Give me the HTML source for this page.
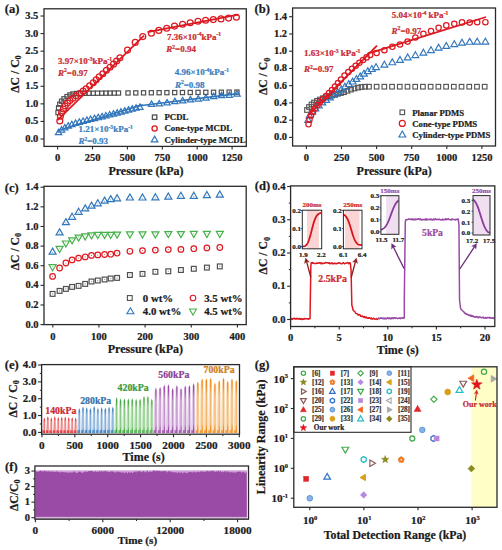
<!DOCTYPE html>
<html><head><meta charset="utf-8"><style>
html,body{margin:0;padding:0;background:#fff;overflow:hidden;width:502px;height:550px;}
svg{display:block;}
text{font-family:"Liberation Serif",serif;}
</style></head><body>
<svg width="502" height="550" viewBox="0 0 502 550">
<rect x="0" y="0" width="502" height="550" fill="#fff"/>
<rect x="55.9" y="110.5" width="4.2" height="4.2" stroke="#505050" stroke-width="1.2" fill="none" />
<rect x="56.5" y="105.7" width="4.2" height="4.2" stroke="#505050" stroke-width="1.2" fill="none" />
<rect x="57.7" y="102.1" width="4.2" height="4.2" stroke="#505050" stroke-width="1.2" fill="none" />
<rect x="59.5" y="99.1" width="4.2" height="4.2" stroke="#505050" stroke-width="1.2" fill="none" />
<rect x="61.9" y="96.7" width="4.2" height="4.2" stroke="#505050" stroke-width="1.2" fill="none" />
<rect x="64.9" y="94.5" width="4.2" height="4.2" stroke="#505050" stroke-width="1.2" fill="none" />
<rect x="67.8" y="92.9" width="4.2" height="4.2" stroke="#505050" stroke-width="1.2" fill="none" />
<rect x="70.8" y="91.9" width="4.2" height="4.2" stroke="#505050" stroke-width="1.2" fill="none" />
<rect x="74.4" y="91.4" width="4.2" height="4.2" stroke="#505050" stroke-width="1.2" fill="none" />
<rect x="78.6" y="91.2" width="4.2" height="4.2" stroke="#505050" stroke-width="1.2" fill="none" />
<rect x="82.8" y="91.19" width="4.2" height="4.2" stroke="#505050" stroke-width="1.2" fill="none" />
<rect x="87" y="91.16" width="4.2" height="4.2" stroke="#505050" stroke-width="1.2" fill="none" />
<rect x="91.2" y="91.13" width="4.2" height="4.2" stroke="#505050" stroke-width="1.2" fill="none" />
<rect x="95.4" y="91.09" width="4.2" height="4.2" stroke="#505050" stroke-width="1.2" fill="none" />
<rect x="99.6" y="91.06" width="4.2" height="4.2" stroke="#505050" stroke-width="1.2" fill="none" />
<rect x="103.8" y="91.03" width="4.2" height="4.2" stroke="#505050" stroke-width="1.2" fill="none" />
<rect x="108" y="91" width="4.2" height="4.2" stroke="#505050" stroke-width="1.2" fill="none" />
<rect x="112.2" y="90.96" width="4.2" height="4.2" stroke="#505050" stroke-width="1.2" fill="none" />
<rect x="116.4" y="90.93" width="4.2" height="4.2" stroke="#505050" stroke-width="1.2" fill="none" />
<rect x="125.9" y="90.85" width="4.2" height="4.2" stroke="#505050" stroke-width="1.2" fill="none" />
<rect x="133.68" y="90.79" width="4.2" height="4.2" stroke="#505050" stroke-width="1.2" fill="none" />
<rect x="141.46" y="90.73" width="4.2" height="4.2" stroke="#505050" stroke-width="1.2" fill="none" />
<rect x="149.24" y="90.67" width="4.2" height="4.2" stroke="#505050" stroke-width="1.2" fill="none" />
<rect x="157.02" y="90.61" width="4.2" height="4.2" stroke="#505050" stroke-width="1.2" fill="none" />
<rect x="164.8" y="90.55" width="4.2" height="4.2" stroke="#505050" stroke-width="1.2" fill="none" />
<rect x="172.58" y="90.49" width="4.2" height="4.2" stroke="#505050" stroke-width="1.2" fill="none" />
<rect x="180.36" y="90.43" width="4.2" height="4.2" stroke="#505050" stroke-width="1.2" fill="none" />
<rect x="188.14" y="90.37" width="4.2" height="4.2" stroke="#505050" stroke-width="1.2" fill="none" />
<rect x="195.92" y="90.31" width="4.2" height="4.2" stroke="#505050" stroke-width="1.2" fill="none" />
<rect x="203.7" y="90.24" width="4.2" height="4.2" stroke="#505050" stroke-width="1.2" fill="none" />
<rect x="211.48" y="90.18" width="4.2" height="4.2" stroke="#505050" stroke-width="1.2" fill="none" />
<rect x="219.26" y="90.12" width="4.2" height="4.2" stroke="#505050" stroke-width="1.2" fill="none" />
<rect x="227.04" y="90.06" width="4.2" height="4.2" stroke="#505050" stroke-width="1.2" fill="none" />
<rect x="234.82" y="90" width="4.2" height="4.2" stroke="#505050" stroke-width="1.2" fill="none" />
<polygon points="58.6,129.13 61.75,134.58 55.45,134.58" stroke="#3276bb" stroke-width="1.2" fill="none" />
<polygon points="61.54,126.58 64.69,132.03 58.39,132.03" stroke="#3276bb" stroke-width="1.2" fill="none" />
<polygon points="64.81,124.45 67.96,129.91 61.66,129.91" stroke="#3276bb" stroke-width="1.2" fill="none" />
<polygon points="68.27,122.65 71.42,128.11 65.12,128.11" stroke="#3276bb" stroke-width="1.2" fill="none" />
<polygon points="71.88,121.21 75.03,126.67 68.73,126.67" stroke="#3276bb" stroke-width="1.2" fill="none" />
<polygon points="75.59,120 78.74,125.46 72.44,125.46" stroke="#3276bb" stroke-width="1.2" fill="none" />
<polygon points="79.32,118.85 82.47,124.3 76.17,124.3" stroke="#3276bb" stroke-width="1.2" fill="none" />
<polygon points="83.08,117.83 86.23,123.29 79.93,123.29" stroke="#3276bb" stroke-width="1.2" fill="none" />
<polygon points="86.87,116.92 90.02,122.38 83.72,122.38" stroke="#3276bb" stroke-width="1.2" fill="none" />
<polygon points="90.67,116.03 93.82,121.49 87.52,121.49" stroke="#3276bb" stroke-width="1.2" fill="none" />
<polygon points="94.47,115.17 97.62,120.63 91.32,120.63" stroke="#3276bb" stroke-width="1.2" fill="none" />
<polygon points="98.28,114.31 101.43,119.77 95.13,119.77" stroke="#3276bb" stroke-width="1.2" fill="none" />
<polygon points="102.07,113.41 105.22,118.87 98.92,118.87" stroke="#3276bb" stroke-width="1.2" fill="none" />
<polygon points="105.87,112.51 109.02,117.97 102.72,117.97" stroke="#3276bb" stroke-width="1.2" fill="none" />
<polygon points="109.65,111.55 112.8,117.01 106.5,117.01" stroke="#3276bb" stroke-width="1.2" fill="none" />
<polygon points="113.43,110.6 116.58,116.05 110.28,116.05" stroke="#3276bb" stroke-width="1.2" fill="none" />
<polygon points="117.2,109.61 120.35,115.06 114.05,115.06" stroke="#3276bb" stroke-width="1.2" fill="none" />
<polygon points="120.97,108.62 124.12,114.07 117.82,114.07" stroke="#3276bb" stroke-width="1.2" fill="none" />
<polygon points="124.74,107.62 127.89,113.07 121.59,113.07" stroke="#3276bb" stroke-width="1.2" fill="none" />
<polygon points="128.51,106.61 131.66,112.07 125.36,112.07" stroke="#3276bb" stroke-width="1.2" fill="none" />
<polygon points="132.28,105.61 135.43,111.06 129.13,111.06" stroke="#3276bb" stroke-width="1.2" fill="none" />
<polygon points="136.07,104.7 139.22,110.16 132.92,110.16" stroke="#3276bb" stroke-width="1.2" fill="none" />
<polygon points="139.88,103.85 143.03,109.31 136.73,109.31" stroke="#3276bb" stroke-width="1.2" fill="none" />
<polygon points="151.5,100.89 154.65,106.35 148.35,106.35" stroke="#3276bb" stroke-width="1.2" fill="none" />
<polygon points="159.28,100.51 162.43,105.97 156.13,105.97" stroke="#3276bb" stroke-width="1.2" fill="none" />
<polygon points="167.06,99.5 170.21,104.95 163.91,104.95" stroke="#3276bb" stroke-width="1.2" fill="none" />
<polygon points="174.84,98.14 177.99,103.6 171.69,103.6" stroke="#3276bb" stroke-width="1.2" fill="none" />
<polygon points="182.62,97.38 185.77,102.84 179.47,102.84" stroke="#3276bb" stroke-width="1.2" fill="none" />
<polygon points="190.4,96.4 193.55,101.85 187.25,101.85" stroke="#3276bb" stroke-width="1.2" fill="none" />
<polygon points="198.18,95.61 201.33,101.06 195.03,101.06" stroke="#3276bb" stroke-width="1.2" fill="none" />
<polygon points="205.96,94.77 209.11,100.22 202.81,100.22" stroke="#3276bb" stroke-width="1.2" fill="none" />
<polygon points="213.74,93.26 216.89,98.72 210.59,98.72" stroke="#3276bb" stroke-width="1.2" fill="none" />
<polygon points="221.52,92.26 224.67,97.72 218.37,97.72" stroke="#3276bb" stroke-width="1.2" fill="none" />
<polygon points="229.3,91.96 232.45,97.41 226.15,97.41" stroke="#3276bb" stroke-width="1.2" fill="none" />
<polygon points="237.08,90.68 240.23,96.14 233.93,96.14" stroke="#3276bb" stroke-width="1.2" fill="none" />
<line x1="57.6" y1="130.74" x2="142.76" y2="104.81" stroke="#3276bb" stroke-width="1.6" />
<line x1="135.78" y1="106.32" x2="237.68" y2="93.6" stroke="#3276bb" stroke-width="1.6" />
<circle cx="59.8" cy="120.9" r="2.95" stroke="#dc1820" stroke-width="1.25" fill="none"/>
<circle cx="60.4" cy="116.2" r="2.95" stroke="#dc1820" stroke-width="1.25" fill="none"/>
<circle cx="61.6" cy="112.6" r="2.95" stroke="#dc1820" stroke-width="1.25" fill="none"/>
<circle cx="63.4" cy="109" r="2.95" stroke="#dc1820" stroke-width="1.25" fill="none"/>
<circle cx="65.2" cy="106" r="2.95" stroke="#dc1820" stroke-width="1.25" fill="none"/>
<circle cx="67.5" cy="103" r="2.95" stroke="#dc1820" stroke-width="1.25" fill="none"/>
<circle cx="69.9" cy="100.6" r="2.95" stroke="#dc1820" stroke-width="1.25" fill="none"/>
<circle cx="72.9" cy="98.2" r="2.95" stroke="#dc1820" stroke-width="1.25" fill="none"/>
<circle cx="75.9" cy="95.8" r="2.95" stroke="#dc1820" stroke-width="1.25" fill="none"/>
<circle cx="79.5" cy="93.5" r="2.95" stroke="#dc1820" stroke-width="1.25" fill="none"/>
<circle cx="83.1" cy="91.1" r="2.95" stroke="#dc1820" stroke-width="1.25" fill="none"/>
<circle cx="86.1" cy="88.7" r="2.95" stroke="#dc1820" stroke-width="1.25" fill="none"/>
<circle cx="89.6" cy="85.7" r="2.95" stroke="#dc1820" stroke-width="1.25" fill="none"/>
<circle cx="93.2" cy="82.7" r="2.95" stroke="#dc1820" stroke-width="1.25" fill="none"/>
<circle cx="96.2" cy="79.7" r="2.95" stroke="#dc1820" stroke-width="1.25" fill="none"/>
<circle cx="99.2" cy="76.7" r="2.95" stroke="#dc1820" stroke-width="1.25" fill="none"/>
<circle cx="102.8" cy="73.7" r="2.95" stroke="#dc1820" stroke-width="1.25" fill="none"/>
<circle cx="106.4" cy="70.2" r="2.95" stroke="#dc1820" stroke-width="1.25" fill="none"/>
<circle cx="110" cy="67.2" r="2.95" stroke="#dc1820" stroke-width="1.25" fill="none"/>
<circle cx="113.5" cy="64.2" r="2.95" stroke="#dc1820" stroke-width="1.25" fill="none"/>
<circle cx="116.6" cy="61" r="2.95" stroke="#dc1820" stroke-width="1.25" fill="none"/>
<circle cx="119.9" cy="57.8" r="2.95" stroke="#dc1820" stroke-width="1.25" fill="none"/>
<circle cx="127.5" cy="50.1" r="2.95" stroke="#dc1820" stroke-width="1.25" fill="none"/>
<circle cx="135.2" cy="42.4" r="2.95" stroke="#dc1820" stroke-width="1.25" fill="none"/>
<circle cx="142.8" cy="36.6" r="2.95" stroke="#dc1820" stroke-width="1.25" fill="none"/>
<circle cx="151.4" cy="33.2" r="2.95" stroke="#dc1820" stroke-width="1.25" fill="none"/>
<circle cx="158.8" cy="30.4" r="2.95" stroke="#dc1820" stroke-width="1.25" fill="none"/>
<circle cx="166.7" cy="28.2" r="2.95" stroke="#dc1820" stroke-width="1.25" fill="none"/>
<circle cx="174.5" cy="26.1" r="2.95" stroke="#dc1820" stroke-width="1.25" fill="none"/>
<circle cx="182.6" cy="24.3" r="2.95" stroke="#dc1820" stroke-width="1.25" fill="none"/>
<circle cx="190.2" cy="22.7" r="2.95" stroke="#dc1820" stroke-width="1.25" fill="none"/>
<circle cx="198" cy="21.3" r="2.95" stroke="#dc1820" stroke-width="1.25" fill="none"/>
<circle cx="205.6" cy="20.3" r="2.95" stroke="#dc1820" stroke-width="1.25" fill="none"/>
<circle cx="213.3" cy="19.6" r="2.95" stroke="#dc1820" stroke-width="1.25" fill="none"/>
<circle cx="221" cy="18.9" r="2.95" stroke="#dc1820" stroke-width="1.25" fill="none"/>
<circle cx="228.6" cy="18.1" r="2.95" stroke="#dc1820" stroke-width="1.25" fill="none"/>
<circle cx="236.4" cy="17.2" r="2.95" stroke="#dc1820" stroke-width="1.25" fill="none"/>
<line x1="57.6" y1="120.2" x2="144" y2="35.6" stroke="#dc1820" stroke-width="1.7" />
<line x1="147.5" y1="32.2" x2="238.5" y2="14.6" stroke="#dc1820" stroke-width="1.7" />
<rect x="44" y="8.8" width="202.3" height="137.6" stroke="#2a2a2a" stroke-width="1.3" fill="none" />
<line x1="40.5" y1="139" x2="44" y2="139" stroke="#2a2a2a" stroke-width="1.1" />
<text x="38.3" y="142.04" font-size="10.5" text-anchor="end" fill="#1a1a1a" stroke="#1a1a1a" stroke-width="0.22" font-weight="bold" font-style="normal" >0.0</text>
<line x1="40.5" y1="121.43" x2="44" y2="121.43" stroke="#2a2a2a" stroke-width="1.1" />
<text x="38.3" y="124.48" font-size="10.5" text-anchor="end" fill="#1a1a1a" stroke="#1a1a1a" stroke-width="0.22" font-weight="bold" font-style="normal" >0.5</text>
<line x1="40.5" y1="103.86" x2="44" y2="103.86" stroke="#2a2a2a" stroke-width="1.1" />
<text x="38.3" y="106.91" font-size="10.5" text-anchor="end" fill="#1a1a1a" stroke="#1a1a1a" stroke-width="0.22" font-weight="bold" font-style="normal" >1.0</text>
<line x1="40.5" y1="86.29" x2="44" y2="86.29" stroke="#2a2a2a" stroke-width="1.1" />
<text x="38.3" y="89.33" font-size="10.5" text-anchor="end" fill="#1a1a1a" stroke="#1a1a1a" stroke-width="0.22" font-weight="bold" font-style="normal" >1.5</text>
<line x1="40.5" y1="68.72" x2="44" y2="68.72" stroke="#2a2a2a" stroke-width="1.1" />
<text x="38.3" y="71.77" font-size="10.5" text-anchor="end" fill="#1a1a1a" stroke="#1a1a1a" stroke-width="0.22" font-weight="bold" font-style="normal" >2.0</text>
<line x1="40.5" y1="51.15" x2="44" y2="51.15" stroke="#2a2a2a" stroke-width="1.1" />
<text x="38.3" y="54.2" font-size="10.5" text-anchor="end" fill="#1a1a1a" stroke="#1a1a1a" stroke-width="0.22" font-weight="bold" font-style="normal" >2.5</text>
<line x1="40.5" y1="33.58" x2="44" y2="33.58" stroke="#2a2a2a" stroke-width="1.1" />
<text x="38.3" y="36.62" font-size="10.5" text-anchor="end" fill="#1a1a1a" stroke="#1a1a1a" stroke-width="0.22" font-weight="bold" font-style="normal" >3.0</text>
<line x1="40.5" y1="16.01" x2="44" y2="16.01" stroke="#2a2a2a" stroke-width="1.1" />
<text x="38.3" y="19.05" font-size="10.5" text-anchor="end" fill="#1a1a1a" stroke="#1a1a1a" stroke-width="0.22" font-weight="bold" font-style="normal" >3.5</text>
<line x1="57.6" y1="146.4" x2="57.6" y2="149.4" stroke="#2a2a2a" stroke-width="1.1" />
<text x="57.6" y="160.8" font-size="10.5" text-anchor="middle" fill="#1a1a1a" stroke="#1a1a1a" stroke-width="0.22" font-weight="bold" font-style="normal" >0</text>
<line x1="92.5" y1="146.4" x2="92.5" y2="149.4" stroke="#2a2a2a" stroke-width="1.1" />
<text x="92.5" y="160.8" font-size="10.5" text-anchor="middle" fill="#1a1a1a" stroke="#1a1a1a" stroke-width="0.22" font-weight="bold" font-style="normal" >250</text>
<line x1="127.4" y1="146.4" x2="127.4" y2="149.4" stroke="#2a2a2a" stroke-width="1.1" />
<text x="127.4" y="160.8" font-size="10.5" text-anchor="middle" fill="#1a1a1a" stroke="#1a1a1a" stroke-width="0.22" font-weight="bold" font-style="normal" >500</text>
<line x1="162.3" y1="146.4" x2="162.3" y2="149.4" stroke="#2a2a2a" stroke-width="1.1" />
<text x="162.3" y="160.8" font-size="10.5" text-anchor="middle" fill="#1a1a1a" stroke="#1a1a1a" stroke-width="0.22" font-weight="bold" font-style="normal" >750</text>
<line x1="197.2" y1="146.4" x2="197.2" y2="149.4" stroke="#2a2a2a" stroke-width="1.1" />
<text x="197.2" y="160.8" font-size="10.5" text-anchor="middle" fill="#1a1a1a" stroke="#1a1a1a" stroke-width="0.22" font-weight="bold" font-style="normal" >1000</text>
<line x1="232.1" y1="146.4" x2="232.1" y2="149.4" stroke="#2a2a2a" stroke-width="1.1" />
<text x="232.1" y="160.8" font-size="10.5" text-anchor="middle" fill="#1a1a1a" stroke="#1a1a1a" stroke-width="0.22" font-weight="bold" font-style="normal" >1250</text>
<text x="146" y="174.9" font-size="12" text-anchor="middle" fill="#1a1a1a" stroke="#1a1a1a" stroke-width="0.22" font-weight="bold" font-style="normal" >Pressure (kPa)</text>
<text transform="translate(18.6,74) rotate(-90)" font-size="11.7" text-anchor="middle" fill="#1a1a1a" font-weight="bold" stroke="#1a1a1a" stroke-width="0.22">ΔC / C<tspan font-size="8.2" dy="2.6">0</tspan></text>
<text x="4.8" y="12.7" font-size="12.6" text-anchor="start" fill="#1a1a1a" stroke="#1a1a1a" stroke-width="0.22" font-weight="bold" font-style="normal" >(a)</text>
<text x="57.9" y="64.2" font-size="9" fill="#cc2a2f" font-weight="bold" stroke="#cc2a2f" stroke-width="0.22">3.97×10<tspan font-size="5.6" dy="-3.4">-3</tspan><tspan dy="3.4">kPa</tspan><tspan font-size="5.6" dy="-3.4">-1</tspan></text>
<text x="58" y="75.7" font-size="9" fill="#cc2a2f" font-weight="bold" stroke="#cc2a2f" stroke-width="0.22"><tspan font-style="italic">R</tspan><tspan font-size="5.6" dy="-3.4">2</tspan><tspan dy="3.4">=0.97</tspan></text>
<text x="166.9" y="39.8" font-size="9" fill="#cc2a2f" font-weight="bold" stroke="#cc2a2f" stroke-width="0.22">7.36×10<tspan font-size="5.6" dy="-3.4">-4</tspan><tspan dy="3.4">kPa</tspan><tspan font-size="5.6" dy="-3.4">-1</tspan></text>
<text x="166.2" y="52" font-size="9" fill="#cc2a2f" font-weight="bold" stroke="#cc2a2f" stroke-width="0.22"><tspan font-style="italic">R</tspan><tspan font-size="5.6" dy="-3.4">2</tspan><tspan dy="3.4">=0.94</tspan></text>
<text x="174.8" y="75" font-size="9" fill="#3b7fc0" font-weight="bold" stroke="#3b7fc0" stroke-width="0.22">4.96×10<tspan font-size="5.6" dy="-3.4">-4</tspan><tspan dy="3.4">kPa</tspan><tspan font-size="5.6" dy="-3.4">-1</tspan></text>
<text x="174.9" y="87.6" font-size="9" fill="#3b7fc0" font-weight="bold" stroke="#3b7fc0" stroke-width="0.22"><tspan font-style="italic">R</tspan><tspan font-size="5.6" dy="-3.4">2</tspan><tspan dy="3.4">=0.98</tspan></text>
<text x="78.6" y="132.3" font-size="9" fill="#3b7fc0" font-weight="bold" stroke="#3b7fc0" stroke-width="0.22">1.21×10<tspan font-size="5.6" dy="-3.4">-3</tspan><tspan dy="3.4">kPa</tspan><tspan font-size="5.6" dy="-3.4">-1</tspan></text>
<text x="78.4" y="144.2" font-size="9" fill="#3b7fc0" font-weight="bold" stroke="#3b7fc0" stroke-width="0.22"><tspan font-style="italic">R</tspan><tspan font-size="5.6" dy="-3.4">2</tspan><tspan dy="3.4">=0.93</tspan></text>
<rect x="152.4" y="115" width="4.4" height="4.4" stroke="#505050" stroke-width="1.3" fill="none" />
<circle cx="154.6" cy="128.5" r="2.6" stroke="#dc1820" stroke-width="1.3" fill="none"/>
<polygon points="154.6,136.17 157.9,141.89 151.3,141.89" stroke="#3276bb" stroke-width="1.2" fill="none" />
<text x="164.5" y="119.8" font-size="8.8" text-anchor="start" fill="#1a1a1a" stroke="#1a1a1a" stroke-width="0.22" font-weight="bold" font-style="normal" >PCDL</text>
<text x="164.5" y="131.1" font-size="8.8" text-anchor="start" fill="#1a1a1a" stroke="#1a1a1a" stroke-width="0.22" font-weight="bold" font-style="normal" >Cone-type MCDL</text>
<text x="164.5" y="142.5" font-size="8.8" text-anchor="start" fill="#1a1a1a" stroke="#1a1a1a" stroke-width="0.22" font-weight="bold" font-style="normal" >Cylinder-type MCDL</text>
<rect x="304.7" y="107.7" width="4.6" height="4.6" stroke="#505050" stroke-width="1.1" fill="none" />
<rect x="306.7" y="104.7" width="4.6" height="4.6" stroke="#505050" stroke-width="1.1" fill="none" />
<rect x="309.2" y="102.2" width="4.6" height="4.6" stroke="#505050" stroke-width="1.1" fill="none" />
<rect x="311.7" y="100.2" width="4.6" height="4.6" stroke="#505050" stroke-width="1.1" fill="none" />
<rect x="314.7" y="98.5" width="4.6" height="4.6" stroke="#505050" stroke-width="1.1" fill="none" />
<rect x="317.7" y="97.2" width="4.6" height="4.6" stroke="#505050" stroke-width="1.1" fill="none" />
<rect x="320.7" y="95.9" width="4.6" height="4.6" stroke="#505050" stroke-width="1.1" fill="none" />
<rect x="323.7" y="94.9" width="4.6" height="4.6" stroke="#505050" stroke-width="1.1" fill="none" />
<rect x="326.7" y="93.9" width="4.6" height="4.6" stroke="#505050" stroke-width="1.1" fill="none" />
<rect x="329.7" y="93.2" width="4.6" height="4.6" stroke="#505050" stroke-width="1.1" fill="none" />
<rect x="332.7" y="92.2" width="4.6" height="4.6" stroke="#505050" stroke-width="1.1" fill="none" />
<rect x="335.7" y="91.5" width="4.6" height="4.6" stroke="#505050" stroke-width="1.1" fill="none" />
<rect x="338.7" y="90.7" width="4.6" height="4.6" stroke="#505050" stroke-width="1.1" fill="none" />
<rect x="341.7" y="89.9" width="4.6" height="4.6" stroke="#505050" stroke-width="1.1" fill="none" />
<rect x="345.2" y="88.5" width="4.6" height="4.6" stroke="#505050" stroke-width="1.1" fill="none" />
<rect x="348.7" y="87.3" width="4.6" height="4.6" stroke="#505050" stroke-width="1.1" fill="none" />
<rect x="352.2" y="86.2" width="4.6" height="4.6" stroke="#505050" stroke-width="1.1" fill="none" />
<rect x="355.7" y="85.3" width="4.6" height="4.6" stroke="#505050" stroke-width="1.1" fill="none" />
<rect x="359.2" y="84.7" width="4.6" height="4.6" stroke="#505050" stroke-width="1.1" fill="none" />
<rect x="362.7" y="84.4" width="4.6" height="4.6" stroke="#505050" stroke-width="1.1" fill="none" />
<rect x="366.7" y="84.4" width="4.6" height="4.6" stroke="#505050" stroke-width="1.1" fill="none" />
<rect x="374.3" y="84.4" width="4.6" height="4.6" stroke="#505050" stroke-width="1.1" fill="none" />
<rect x="382.02" y="84.4" width="4.6" height="4.6" stroke="#505050" stroke-width="1.1" fill="none" />
<rect x="389.74" y="84.4" width="4.6" height="4.6" stroke="#505050" stroke-width="1.1" fill="none" />
<rect x="397.46" y="84.4" width="4.6" height="4.6" stroke="#505050" stroke-width="1.1" fill="none" />
<rect x="405.18" y="84.4" width="4.6" height="4.6" stroke="#505050" stroke-width="1.1" fill="none" />
<rect x="412.9" y="84.4" width="4.6" height="4.6" stroke="#505050" stroke-width="1.1" fill="none" />
<rect x="420.62" y="84.4" width="4.6" height="4.6" stroke="#505050" stroke-width="1.1" fill="none" />
<rect x="428.34" y="84.4" width="4.6" height="4.6" stroke="#505050" stroke-width="1.1" fill="none" />
<rect x="436.06" y="84.4" width="4.6" height="4.6" stroke="#505050" stroke-width="1.1" fill="none" />
<rect x="443.78" y="84.4" width="4.6" height="4.6" stroke="#505050" stroke-width="1.1" fill="none" />
<rect x="451.5" y="84.4" width="4.6" height="4.6" stroke="#505050" stroke-width="1.1" fill="none" />
<rect x="459.22" y="84.4" width="4.6" height="4.6" stroke="#505050" stroke-width="1.1" fill="none" />
<rect x="466.94" y="84.4" width="4.6" height="4.6" stroke="#505050" stroke-width="1.1" fill="none" />
<rect x="474.66" y="84.4" width="4.6" height="4.6" stroke="#505050" stroke-width="1.1" fill="none" />
<rect x="482.38" y="84.4" width="4.6" height="4.6" stroke="#505050" stroke-width="1.1" fill="none" />
<polygon points="308.2,116.47 311.6,122.36 304.8,122.36" stroke="#3276bb" stroke-width="1.15" fill="none" />
<polygon points="309.51,112.06 312.91,117.95 306.11,117.95" stroke="#3276bb" stroke-width="1.15" fill="none" />
<polygon points="312.19,108.34 315.59,114.23 308.79,114.23" stroke="#3276bb" stroke-width="1.15" fill="none" />
<polygon points="315.41,105.07 318.81,110.96 312.01,110.96" stroke="#3276bb" stroke-width="1.15" fill="none" />
<polygon points="318.81,101.97 322.21,107.86 315.41,107.86" stroke="#3276bb" stroke-width="1.15" fill="none" />
<polygon points="322.35,99.03 325.75,104.92 318.95,104.92" stroke="#3276bb" stroke-width="1.15" fill="none" />
<polygon points="326.18,96.48 329.58,102.37 322.78,102.37" stroke="#3276bb" stroke-width="1.15" fill="none" />
<polygon points="330,93.93 333.4,99.82 326.6,99.82" stroke="#3276bb" stroke-width="1.15" fill="none" />
<polygon points="333.83,91.38 337.23,97.27 330.43,97.27" stroke="#3276bb" stroke-width="1.15" fill="none" />
<polygon points="337.61,88.75 341.01,94.64 334.21,94.64" stroke="#3276bb" stroke-width="1.15" fill="none" />
<polygon points="341.22,85.91 344.62,91.8 337.82,91.8" stroke="#3276bb" stroke-width="1.15" fill="none" />
<polygon points="344.97,83.24 348.37,89.13 341.57,89.13" stroke="#3276bb" stroke-width="1.15" fill="none" />
<polygon points="348.77,80.65 352.17,86.54 345.37,86.54" stroke="#3276bb" stroke-width="1.15" fill="none" />
<polygon points="352.6,78.1 356,83.99 349.2,83.99" stroke="#3276bb" stroke-width="1.15" fill="none" />
<polygon points="356.42,75.55 359.82,81.44 353.02,81.44" stroke="#3276bb" stroke-width="1.15" fill="none" />
<polygon points="360.25,73 363.65,78.89 356.85,78.89" stroke="#3276bb" stroke-width="1.15" fill="none" />
<polygon points="363.95,70.27 367.35,76.16 360.55,76.16" stroke="#3276bb" stroke-width="1.15" fill="none" />
<polygon points="367.8,67.76 371.2,73.64 364.4,73.64" stroke="#3276bb" stroke-width="1.15" fill="none" />
<polygon points="371.84,65.58 375.24,71.47 368.44,71.47" stroke="#3276bb" stroke-width="1.15" fill="none" />
<polygon points="376.03,63.68 379.43,69.57 372.63,69.57" stroke="#3276bb" stroke-width="1.15" fill="none" />
<polygon points="384.4,61.27 387.8,67.16 381,67.16" stroke="#3276bb" stroke-width="1.15" fill="none" />
<polygon points="392.3,58.87 395.7,64.76 388.9,64.76" stroke="#3276bb" stroke-width="1.15" fill="none" />
<polygon points="400,56.47 403.4,62.36 396.6,62.36" stroke="#3276bb" stroke-width="1.15" fill="none" />
<polygon points="407.7,53.97 411.1,59.86 404.3,59.86" stroke="#3276bb" stroke-width="1.15" fill="none" />
<polygon points="415.4,51.67 418.8,57.56 412,57.56" stroke="#3276bb" stroke-width="1.15" fill="none" />
<polygon points="423.4,49.27 426.8,55.16 420,55.16" stroke="#3276bb" stroke-width="1.15" fill="none" />
<polygon points="431,46.67 434.4,52.56 427.6,52.56" stroke="#3276bb" stroke-width="1.15" fill="none" />
<polygon points="438.6,44.27 442,50.16 435.2,50.16" stroke="#3276bb" stroke-width="1.15" fill="none" />
<polygon points="446.3,42.47 449.7,48.36 442.9,48.36" stroke="#3276bb" stroke-width="1.15" fill="none" />
<polygon points="454.3,40.67 457.7,46.56 450.9,46.56" stroke="#3276bb" stroke-width="1.15" fill="none" />
<polygon points="462,39.27 465.4,45.16 458.6,45.16" stroke="#3276bb" stroke-width="1.15" fill="none" />
<polygon points="469.7,38.37 473.1,44.26 466.3,44.26" stroke="#3276bb" stroke-width="1.15" fill="none" />
<polygon points="477.2,38.17 480.6,44.06 473.8,44.06" stroke="#3276bb" stroke-width="1.15" fill="none" />
<polygon points="485.4,38.17 488.8,44.06 482,44.06" stroke="#3276bb" stroke-width="1.15" fill="none" />
<circle cx="308.5" cy="124.3" r="2.7" stroke="#dc1820" stroke-width="1.2" fill="none"/>
<circle cx="309.5" cy="119.5" r="2.7" stroke="#dc1820" stroke-width="1.2" fill="none"/>
<circle cx="311" cy="115.5" r="2.7" stroke="#dc1820" stroke-width="1.2" fill="none"/>
<circle cx="313" cy="112" r="2.7" stroke="#dc1820" stroke-width="1.2" fill="none"/>
<circle cx="315" cy="108.5" r="2.7" stroke="#dc1820" stroke-width="1.2" fill="none"/>
<circle cx="317.5" cy="105" r="2.7" stroke="#dc1820" stroke-width="1.2" fill="none"/>
<circle cx="320" cy="102" r="2.7" stroke="#dc1820" stroke-width="1.2" fill="none"/>
<circle cx="323" cy="99" r="2.7" stroke="#dc1820" stroke-width="1.2" fill="none"/>
<circle cx="326" cy="96" r="2.7" stroke="#dc1820" stroke-width="1.2" fill="none"/>
<circle cx="329" cy="93" r="2.7" stroke="#dc1820" stroke-width="1.2" fill="none"/>
<circle cx="332" cy="90" r="2.7" stroke="#dc1820" stroke-width="1.2" fill="none"/>
<circle cx="335" cy="86.5" r="2.7" stroke="#dc1820" stroke-width="1.2" fill="none"/>
<circle cx="338" cy="83" r="2.7" stroke="#dc1820" stroke-width="1.2" fill="none"/>
<circle cx="341" cy="79.5" r="2.7" stroke="#dc1820" stroke-width="1.2" fill="none"/>
<circle cx="344.6" cy="75.6" r="2.7" stroke="#dc1820" stroke-width="1.2" fill="none"/>
<circle cx="348.3" cy="72" r="2.7" stroke="#dc1820" stroke-width="1.2" fill="none"/>
<circle cx="352" cy="68.8" r="2.7" stroke="#dc1820" stroke-width="1.2" fill="none"/>
<circle cx="355.7" cy="65.8" r="2.7" stroke="#dc1820" stroke-width="1.2" fill="none"/>
<circle cx="359.4" cy="62.8" r="2.7" stroke="#dc1820" stroke-width="1.2" fill="none"/>
<circle cx="363" cy="60" r="2.7" stroke="#dc1820" stroke-width="1.2" fill="none"/>
<circle cx="366.6" cy="57.4" r="2.7" stroke="#dc1820" stroke-width="1.2" fill="none"/>
<circle cx="370.2" cy="55" r="2.7" stroke="#dc1820" stroke-width="1.2" fill="none"/>
<circle cx="376.6" cy="53" r="2.7" stroke="#dc1820" stroke-width="1.2" fill="none"/>
<circle cx="384.4" cy="50.2" r="2.7" stroke="#dc1820" stroke-width="1.2" fill="none"/>
<circle cx="392.3" cy="46.8" r="2.7" stroke="#dc1820" stroke-width="1.2" fill="none"/>
<circle cx="400" cy="44.5" r="2.7" stroke="#dc1820" stroke-width="1.2" fill="none"/>
<circle cx="407.6" cy="41.6" r="2.7" stroke="#dc1820" stroke-width="1.2" fill="none"/>
<circle cx="415.4" cy="37.5" r="2.7" stroke="#dc1820" stroke-width="1.2" fill="none"/>
<circle cx="423.4" cy="33.8" r="2.7" stroke="#dc1820" stroke-width="1.2" fill="none"/>
<circle cx="431" cy="31" r="2.7" stroke="#dc1820" stroke-width="1.2" fill="none"/>
<circle cx="438.6" cy="27.8" r="2.7" stroke="#dc1820" stroke-width="1.2" fill="none"/>
<circle cx="446.3" cy="25.4" r="2.7" stroke="#dc1820" stroke-width="1.2" fill="none"/>
<circle cx="454.3" cy="23.8" r="2.7" stroke="#dc1820" stroke-width="1.2" fill="none"/>
<circle cx="462" cy="22.4" r="2.7" stroke="#dc1820" stroke-width="1.2" fill="none"/>
<circle cx="469.7" cy="22.6" r="2.7" stroke="#dc1820" stroke-width="1.2" fill="none"/>
<circle cx="477.2" cy="22.2" r="2.7" stroke="#dc1820" stroke-width="1.2" fill="none"/>
<circle cx="485.4" cy="22.2" r="2.7" stroke="#dc1820" stroke-width="1.2" fill="none"/>
<line x1="308.5" y1="115" x2="377" y2="45.6" stroke="#dc1820" stroke-width="1.8" />
<line x1="372" y1="52.3" x2="486" y2="17" stroke="#dc1820" stroke-width="1.8" />
<rect x="292.6" y="8" width="202.9" height="138" stroke="#2a2a2a" stroke-width="1.3" fill="none" />
<line x1="289.1" y1="137.4" x2="292.6" y2="137.4" stroke="#2a2a2a" stroke-width="1.1" />
<text x="287" y="140.44" font-size="10.5" text-anchor="end" fill="#1a1a1a" stroke="#1a1a1a" stroke-width="0.22" font-weight="bold" font-style="normal" >0.0</text>
<line x1="289.1" y1="120.16" x2="292.6" y2="120.16" stroke="#2a2a2a" stroke-width="1.1" />
<text x="287" y="123.2" font-size="10.5" text-anchor="end" fill="#1a1a1a" stroke="#1a1a1a" stroke-width="0.22" font-weight="bold" font-style="normal" >0.2</text>
<line x1="289.1" y1="102.92" x2="292.6" y2="102.92" stroke="#2a2a2a" stroke-width="1.1" />
<text x="287" y="105.96" font-size="10.5" text-anchor="end" fill="#1a1a1a" stroke="#1a1a1a" stroke-width="0.22" font-weight="bold" font-style="normal" >0.4</text>
<line x1="289.1" y1="85.67" x2="292.6" y2="85.67" stroke="#2a2a2a" stroke-width="1.1" />
<text x="287" y="88.72" font-size="10.5" text-anchor="end" fill="#1a1a1a" stroke="#1a1a1a" stroke-width="0.22" font-weight="bold" font-style="normal" >0.6</text>
<line x1="289.1" y1="68.43" x2="292.6" y2="68.43" stroke="#2a2a2a" stroke-width="1.1" />
<text x="287" y="71.48" font-size="10.5" text-anchor="end" fill="#1a1a1a" stroke="#1a1a1a" stroke-width="0.22" font-weight="bold" font-style="normal" >0.8</text>
<line x1="289.1" y1="51.19" x2="292.6" y2="51.19" stroke="#2a2a2a" stroke-width="1.1" />
<text x="287" y="54.24" font-size="10.5" text-anchor="end" fill="#1a1a1a" stroke="#1a1a1a" stroke-width="0.22" font-weight="bold" font-style="normal" >1.0</text>
<line x1="289.1" y1="33.95" x2="292.6" y2="33.95" stroke="#2a2a2a" stroke-width="1.1" />
<text x="287" y="36.99" font-size="10.5" text-anchor="end" fill="#1a1a1a" stroke="#1a1a1a" stroke-width="0.22" font-weight="bold" font-style="normal" >1.2</text>
<line x1="289.1" y1="16.71" x2="292.6" y2="16.71" stroke="#2a2a2a" stroke-width="1.1" />
<text x="287" y="19.75" font-size="10.5" text-anchor="end" fill="#1a1a1a" stroke="#1a1a1a" stroke-width="0.22" font-weight="bold" font-style="normal" >1.4</text>
<line x1="306.4" y1="146" x2="306.4" y2="149" stroke="#2a2a2a" stroke-width="1.1" />
<text x="306.4" y="160.8" font-size="10.5" text-anchor="middle" fill="#1a1a1a" stroke="#1a1a1a" stroke-width="0.22" font-weight="bold" font-style="normal" >0</text>
<line x1="341.5" y1="146" x2="341.5" y2="149" stroke="#2a2a2a" stroke-width="1.1" />
<text x="341.5" y="160.8" font-size="10.5" text-anchor="middle" fill="#1a1a1a" stroke="#1a1a1a" stroke-width="0.22" font-weight="bold" font-style="normal" >250</text>
<line x1="376.6" y1="146" x2="376.6" y2="149" stroke="#2a2a2a" stroke-width="1.1" />
<text x="376.6" y="160.8" font-size="10.5" text-anchor="middle" fill="#1a1a1a" stroke="#1a1a1a" stroke-width="0.22" font-weight="bold" font-style="normal" >500</text>
<line x1="411.7" y1="146" x2="411.7" y2="149" stroke="#2a2a2a" stroke-width="1.1" />
<text x="411.7" y="160.8" font-size="10.5" text-anchor="middle" fill="#1a1a1a" stroke="#1a1a1a" stroke-width="0.22" font-weight="bold" font-style="normal" >750</text>
<line x1="446.8" y1="146" x2="446.8" y2="149" stroke="#2a2a2a" stroke-width="1.1" />
<text x="446.8" y="160.8" font-size="10.5" text-anchor="middle" fill="#1a1a1a" stroke="#1a1a1a" stroke-width="0.22" font-weight="bold" font-style="normal" >1000</text>
<line x1="481.9" y1="146" x2="481.9" y2="149" stroke="#2a2a2a" stroke-width="1.1" />
<text x="481.9" y="160.8" font-size="10.5" text-anchor="middle" fill="#1a1a1a" stroke="#1a1a1a" stroke-width="0.22" font-weight="bold" font-style="normal" >1250</text>
<text x="394.2" y="174.9" font-size="12" text-anchor="middle" fill="#1a1a1a" stroke="#1a1a1a" stroke-width="0.22" font-weight="bold" font-style="normal" >Pressure (kPa)</text>
<text transform="translate(267.4,76.4) rotate(-90)" font-size="11.7" text-anchor="middle" fill="#1a1a1a" font-weight="bold" stroke="#1a1a1a" stroke-width="0.22">ΔC / C<tspan font-size="8.2" dy="2.6">0</tspan></text>
<text x="254.6" y="12.7" font-size="12.6" text-anchor="start" fill="#1a1a1a" stroke="#1a1a1a" stroke-width="0.22" font-weight="bold" font-style="normal" >(b)</text>
<text x="303.9" y="56.3" font-size="9" fill="#cc2a2f" font-weight="bold" stroke="#cc2a2f" stroke-width="0.22">1.63×10<tspan font-size="5.6" dy="-3.4">-3</tspan><tspan dy="3.4"> kPa</tspan><tspan font-size="5.6" dy="-3.4">-1</tspan></text>
<text x="303.9" y="72.4" font-size="9" fill="#cc2a2f" font-weight="bold" stroke="#cc2a2f" stroke-width="0.22"><tspan font-style="italic">R</tspan><tspan font-size="5.6" dy="-3.4">2</tspan><tspan dy="3.4">=0.97</tspan></text>
<text x="391.8" y="18.4" font-size="9" fill="#cc2a2f" font-weight="bold" stroke="#cc2a2f" stroke-width="0.22">5.04×10<tspan font-size="5.6" dy="-3.4">-4</tspan><tspan dy="3.4"> kPa</tspan><tspan font-size="5.6" dy="-3.4">-1</tspan></text>
<text x="391.6" y="33.6" font-size="9" fill="#cc2a2f" font-weight="bold" stroke="#cc2a2f" stroke-width="0.22"><tspan font-style="italic">R</tspan><tspan font-size="5.6" dy="-3.4">2</tspan><tspan dy="3.4">=0.97</tspan></text>
<rect x="400" y="110" width="4.6" height="4.6" stroke="#505050" stroke-width="1.1" fill="none" />
<circle cx="402.3" cy="123.4" r="3" stroke="#dc1820" stroke-width="1.2" fill="none"/>
<polygon points="402.3,131.07 405.7,136.96 398.9,136.96" stroke="#3276bb" stroke-width="1.15" fill="none" />
<text x="412.3" y="115.6" font-size="8.7" text-anchor="start" fill="#1a1a1a" stroke="#1a1a1a" stroke-width="0.22" font-weight="bold" font-style="normal" >Planar PDMS</text>
<text x="412.3" y="126.7" font-size="8.7" text-anchor="start" fill="#1a1a1a" stroke="#1a1a1a" stroke-width="0.22" font-weight="bold" font-style="normal" >Cone-type PDMS</text>
<text x="412.3" y="137.9" font-size="8.7" text-anchor="start" fill="#1a1a1a" stroke="#1a1a1a" stroke-width="0.22" font-weight="bold" font-style="normal" >Cylinder-type PDMS</text>
<rect x="50.2" y="291.5" width="4.8" height="4.8" stroke="#505050" stroke-width="1.2" fill="none" />
<circle cx="52.6" cy="293.9" r="0.55" fill="#505050" opacity="0.7"/>
<rect x="57.2" y="288.5" width="4.8" height="4.8" stroke="#505050" stroke-width="1.2" fill="none" />
<circle cx="59.6" cy="290.9" r="0.55" fill="#505050" opacity="0.7"/>
<rect x="63.5" y="286.5" width="4.8" height="4.8" stroke="#505050" stroke-width="1.2" fill="none" />
<circle cx="65.9" cy="288.9" r="0.55" fill="#505050" opacity="0.7"/>
<rect x="69.7" y="284.5" width="4.8" height="4.8" stroke="#505050" stroke-width="1.2" fill="none" />
<circle cx="72.1" cy="286.9" r="0.55" fill="#505050" opacity="0.7"/>
<rect x="76.2" y="283.5" width="4.8" height="4.8" stroke="#505050" stroke-width="1.2" fill="none" />
<circle cx="78.6" cy="285.9" r="0.55" fill="#505050" opacity="0.7"/>
<rect x="82.8" y="281.5" width="4.8" height="4.8" stroke="#505050" stroke-width="1.2" fill="none" />
<circle cx="85.2" cy="283.9" r="0.55" fill="#505050" opacity="0.7"/>
<rect x="89.1" y="279.1" width="4.8" height="4.8" stroke="#505050" stroke-width="1.2" fill="none" />
<circle cx="91.5" cy="281.5" r="0.55" fill="#505050" opacity="0.7"/>
<rect x="95.4" y="278.1" width="4.8" height="4.8" stroke="#505050" stroke-width="1.2" fill="none" />
<circle cx="97.8" cy="280.5" r="0.55" fill="#505050" opacity="0.7"/>
<rect x="102.2" y="277.1" width="4.8" height="4.8" stroke="#505050" stroke-width="1.2" fill="none" />
<circle cx="104.6" cy="279.5" r="0.55" fill="#505050" opacity="0.7"/>
<rect x="108.3" y="276.1" width="4.8" height="4.8" stroke="#505050" stroke-width="1.2" fill="none" />
<circle cx="110.7" cy="278.5" r="0.55" fill="#505050" opacity="0.7"/>
<rect x="114.7" y="275.5" width="4.8" height="4.8" stroke="#505050" stroke-width="1.2" fill="none" />
<circle cx="117.1" cy="277.9" r="0.55" fill="#505050" opacity="0.7"/>
<rect x="127.5" y="272.6" width="4.8" height="4.8" stroke="#505050" stroke-width="1.2" fill="none" />
<circle cx="129.9" cy="275" r="0.55" fill="#505050" opacity="0.7"/>
<rect x="140.1" y="271.5" width="4.8" height="4.8" stroke="#505050" stroke-width="1.2" fill="none" />
<circle cx="142.5" cy="273.9" r="0.55" fill="#505050" opacity="0.7"/>
<rect x="153" y="269.4" width="4.8" height="4.8" stroke="#505050" stroke-width="1.2" fill="none" />
<circle cx="155.4" cy="271.8" r="0.55" fill="#505050" opacity="0.7"/>
<rect x="165.9" y="268.9" width="4.8" height="4.8" stroke="#505050" stroke-width="1.2" fill="none" />
<circle cx="168.3" cy="271.3" r="0.55" fill="#505050" opacity="0.7"/>
<rect x="178.5" y="267.6" width="4.8" height="4.8" stroke="#505050" stroke-width="1.2" fill="none" />
<circle cx="180.9" cy="270" r="0.55" fill="#505050" opacity="0.7"/>
<rect x="191.4" y="266.4" width="4.8" height="4.8" stroke="#505050" stroke-width="1.2" fill="none" />
<circle cx="193.8" cy="268.8" r="0.55" fill="#505050" opacity="0.7"/>
<rect x="204.5" y="265.2" width="4.8" height="4.8" stroke="#505050" stroke-width="1.2" fill="none" />
<circle cx="206.9" cy="267.6" r="0.55" fill="#505050" opacity="0.7"/>
<rect x="217.4" y="264" width="4.8" height="4.8" stroke="#505050" stroke-width="1.2" fill="none" />
<circle cx="219.8" cy="266.4" r="0.55" fill="#505050" opacity="0.7"/>
<circle cx="52.6" cy="276.4" r="2.8" stroke="#dc1820" stroke-width="1.2" fill="none"/>
<circle cx="52.6" cy="276.4" r="0.55" fill="#dc1820" opacity="0.7"/>
<circle cx="59.6" cy="268" r="2.8" stroke="#dc1820" stroke-width="1.2" fill="none"/>
<circle cx="59.6" cy="268" r="0.55" fill="#dc1820" opacity="0.7"/>
<circle cx="65.9" cy="263" r="2.8" stroke="#dc1820" stroke-width="1.2" fill="none"/>
<circle cx="65.9" cy="263" r="0.55" fill="#dc1820" opacity="0.7"/>
<circle cx="72.1" cy="259.9" r="2.8" stroke="#dc1820" stroke-width="1.2" fill="none"/>
<circle cx="72.1" cy="259.9" r="0.55" fill="#dc1820" opacity="0.7"/>
<circle cx="78.6" cy="258.1" r="2.8" stroke="#dc1820" stroke-width="1.2" fill="none"/>
<circle cx="78.6" cy="258.1" r="0.55" fill="#dc1820" opacity="0.7"/>
<circle cx="85.2" cy="256.9" r="2.8" stroke="#dc1820" stroke-width="1.2" fill="none"/>
<circle cx="85.2" cy="256.9" r="0.55" fill="#dc1820" opacity="0.7"/>
<circle cx="91.5" cy="255.4" r="2.8" stroke="#dc1820" stroke-width="1.2" fill="none"/>
<circle cx="91.5" cy="255.4" r="0.55" fill="#dc1820" opacity="0.7"/>
<circle cx="97.8" cy="254.9" r="2.8" stroke="#dc1820" stroke-width="1.2" fill="none"/>
<circle cx="97.8" cy="254.9" r="0.55" fill="#dc1820" opacity="0.7"/>
<circle cx="104.6" cy="254.5" r="2.8" stroke="#dc1820" stroke-width="1.2" fill="none"/>
<circle cx="104.6" cy="254.5" r="0.55" fill="#dc1820" opacity="0.7"/>
<circle cx="110.7" cy="254.2" r="2.8" stroke="#dc1820" stroke-width="1.2" fill="none"/>
<circle cx="110.7" cy="254.2" r="0.55" fill="#dc1820" opacity="0.7"/>
<circle cx="117.1" cy="253.1" r="2.8" stroke="#dc1820" stroke-width="1.2" fill="none"/>
<circle cx="117.1" cy="253.1" r="0.55" fill="#dc1820" opacity="0.7"/>
<circle cx="129.9" cy="251.3" r="2.8" stroke="#dc1820" stroke-width="1.2" fill="none"/>
<circle cx="129.9" cy="251.3" r="0.55" fill="#dc1820" opacity="0.7"/>
<circle cx="142.5" cy="250.6" r="2.8" stroke="#dc1820" stroke-width="1.2" fill="none"/>
<circle cx="142.5" cy="250.6" r="0.55" fill="#dc1820" opacity="0.7"/>
<circle cx="155.4" cy="250.1" r="2.8" stroke="#dc1820" stroke-width="1.2" fill="none"/>
<circle cx="155.4" cy="250.1" r="0.55" fill="#dc1820" opacity="0.7"/>
<circle cx="168.3" cy="249.6" r="2.8" stroke="#dc1820" stroke-width="1.2" fill="none"/>
<circle cx="168.3" cy="249.6" r="0.55" fill="#dc1820" opacity="0.7"/>
<circle cx="180.9" cy="249.4" r="2.8" stroke="#dc1820" stroke-width="1.2" fill="none"/>
<circle cx="180.9" cy="249.4" r="0.55" fill="#dc1820" opacity="0.7"/>
<circle cx="193.8" cy="248.7" r="2.8" stroke="#dc1820" stroke-width="1.2" fill="none"/>
<circle cx="193.8" cy="248.7" r="0.55" fill="#dc1820" opacity="0.7"/>
<circle cx="206.9" cy="247.9" r="2.8" stroke="#dc1820" stroke-width="1.2" fill="none"/>
<circle cx="206.9" cy="247.9" r="0.55" fill="#dc1820" opacity="0.7"/>
<circle cx="219.8" cy="247.5" r="2.8" stroke="#dc1820" stroke-width="1.2" fill="none"/>
<circle cx="219.8" cy="247.5" r="0.55" fill="#dc1820" opacity="0.7"/>
<polygon points="52.6,270.74 56.1,264.68 49.1,264.68" stroke="#46b04a" stroke-width="1.2" fill="none" />
<circle cx="52.6" cy="266.5" r="0.55" fill="#46b04a" opacity="0.7"/>
<polygon points="59.6,252.44 63.1,246.38 56.1,246.38" stroke="#46b04a" stroke-width="1.2" fill="none" />
<circle cx="59.6" cy="248.2" r="0.55" fill="#46b04a" opacity="0.7"/>
<polygon points="65.9,247.04 69.4,240.98 62.4,240.98" stroke="#46b04a" stroke-width="1.2" fill="none" />
<circle cx="65.9" cy="242.8" r="0.55" fill="#46b04a" opacity="0.7"/>
<polygon points="72.1,243.84 75.6,237.78 68.6,237.78" stroke="#46b04a" stroke-width="1.2" fill="none" />
<circle cx="72.1" cy="239.6" r="0.55" fill="#46b04a" opacity="0.7"/>
<polygon points="78.6,241.14 82.1,235.08 75.1,235.08" stroke="#46b04a" stroke-width="1.2" fill="none" />
<circle cx="78.6" cy="236.9" r="0.55" fill="#46b04a" opacity="0.7"/>
<polygon points="85.2,239.94 88.7,233.88 81.7,233.88" stroke="#46b04a" stroke-width="1.2" fill="none" />
<circle cx="85.2" cy="235.7" r="0.55" fill="#46b04a" opacity="0.7"/>
<polygon points="91.5,238.84 95,232.78 88,232.78" stroke="#46b04a" stroke-width="1.2" fill="none" />
<circle cx="91.5" cy="234.6" r="0.55" fill="#46b04a" opacity="0.7"/>
<polygon points="97.8,238.44 101.3,232.38 94.3,232.38" stroke="#46b04a" stroke-width="1.2" fill="none" />
<circle cx="97.8" cy="234.2" r="0.55" fill="#46b04a" opacity="0.7"/>
<polygon points="104.6,238.44 108.1,232.38 101.1,232.38" stroke="#46b04a" stroke-width="1.2" fill="none" />
<circle cx="104.6" cy="234.2" r="0.55" fill="#46b04a" opacity="0.7"/>
<polygon points="110.7,238.44 114.2,232.38 107.2,232.38" stroke="#46b04a" stroke-width="1.2" fill="none" />
<circle cx="110.7" cy="234.2" r="0.55" fill="#46b04a" opacity="0.7"/>
<polygon points="117.1,238.14 120.6,232.08 113.6,232.08" stroke="#46b04a" stroke-width="1.2" fill="none" />
<circle cx="117.1" cy="233.9" r="0.55" fill="#46b04a" opacity="0.7"/>
<polygon points="129.9,237.94 133.4,231.88 126.4,231.88" stroke="#46b04a" stroke-width="1.2" fill="none" />
<circle cx="129.9" cy="233.7" r="0.55" fill="#46b04a" opacity="0.7"/>
<polygon points="142.5,237.94 146,231.88 139,231.88" stroke="#46b04a" stroke-width="1.2" fill="none" />
<circle cx="142.5" cy="233.7" r="0.55" fill="#46b04a" opacity="0.7"/>
<polygon points="155.4,237.94 158.9,231.88 151.9,231.88" stroke="#46b04a" stroke-width="1.2" fill="none" />
<circle cx="155.4" cy="233.7" r="0.55" fill="#46b04a" opacity="0.7"/>
<polygon points="168.3,237.64 171.8,231.58 164.8,231.58" stroke="#46b04a" stroke-width="1.2" fill="none" />
<circle cx="168.3" cy="233.4" r="0.55" fill="#46b04a" opacity="0.7"/>
<polygon points="180.9,237.64 184.4,231.58 177.4,231.58" stroke="#46b04a" stroke-width="1.2" fill="none" />
<circle cx="180.9" cy="233.4" r="0.55" fill="#46b04a" opacity="0.7"/>
<polygon points="193.8,237.44 197.3,231.38 190.3,231.38" stroke="#46b04a" stroke-width="1.2" fill="none" />
<circle cx="193.8" cy="233.2" r="0.55" fill="#46b04a" opacity="0.7"/>
<polygon points="206.9,237.44 210.4,231.38 203.4,231.38" stroke="#46b04a" stroke-width="1.2" fill="none" />
<circle cx="206.9" cy="233.2" r="0.55" fill="#46b04a" opacity="0.7"/>
<polygon points="219.8,237.44 223.3,231.38 216.3,231.38" stroke="#46b04a" stroke-width="1.2" fill="none" />
<circle cx="219.8" cy="233.2" r="0.55" fill="#46b04a" opacity="0.7"/>
<polygon points="52.6,248.16 56.1,254.22 49.1,254.22" stroke="#3276bb" stroke-width="1.2" fill="none" />
<circle cx="52.6" cy="252.4" r="0.55" fill="#3276bb" opacity="0.7"/>
<polygon points="59.6,228.86 63.1,234.92 56.1,234.92" stroke="#3276bb" stroke-width="1.2" fill="none" />
<circle cx="59.6" cy="233.1" r="0.55" fill="#3276bb" opacity="0.7"/>
<polygon points="65.9,218.66 69.4,224.72 62.4,224.72" stroke="#3276bb" stroke-width="1.2" fill="none" />
<circle cx="65.9" cy="222.9" r="0.55" fill="#3276bb" opacity="0.7"/>
<polygon points="72.1,213.26 75.6,219.32 68.6,219.32" stroke="#3276bb" stroke-width="1.2" fill="none" />
<circle cx="72.1" cy="217.5" r="0.55" fill="#3276bb" opacity="0.7"/>
<polygon points="78.6,208.26 82.1,214.32 75.1,214.32" stroke="#3276bb" stroke-width="1.2" fill="none" />
<circle cx="78.6" cy="212.5" r="0.55" fill="#3276bb" opacity="0.7"/>
<polygon points="85.2,204.86 88.7,210.92 81.7,210.92" stroke="#3276bb" stroke-width="1.2" fill="none" />
<circle cx="85.2" cy="209.1" r="0.55" fill="#3276bb" opacity="0.7"/>
<polygon points="91.5,202.16 95,208.22 88,208.22" stroke="#3276bb" stroke-width="1.2" fill="none" />
<circle cx="91.5" cy="206.4" r="0.55" fill="#3276bb" opacity="0.7"/>
<polygon points="97.8,199.76 101.3,205.82 94.3,205.82" stroke="#3276bb" stroke-width="1.2" fill="none" />
<circle cx="97.8" cy="204" r="0.55" fill="#3276bb" opacity="0.7"/>
<polygon points="104.6,197.16 108.1,203.22 101.1,203.22" stroke="#3276bb" stroke-width="1.2" fill="none" />
<circle cx="104.6" cy="201.4" r="0.55" fill="#3276bb" opacity="0.7"/>
<polygon points="110.7,195.66 114.2,201.72 107.2,201.72" stroke="#3276bb" stroke-width="1.2" fill="none" />
<circle cx="110.7" cy="199.9" r="0.55" fill="#3276bb" opacity="0.7"/>
<polygon points="117.1,194.76 120.6,200.82 113.6,200.82" stroke="#3276bb" stroke-width="1.2" fill="none" />
<circle cx="117.1" cy="199" r="0.55" fill="#3276bb" opacity="0.7"/>
<polygon points="129.9,193.96 133.4,200.02 126.4,200.02" stroke="#3276bb" stroke-width="1.2" fill="none" />
<circle cx="129.9" cy="198.2" r="0.55" fill="#3276bb" opacity="0.7"/>
<polygon points="142.5,193.96 146,200.02 139,200.02" stroke="#3276bb" stroke-width="1.2" fill="none" />
<circle cx="142.5" cy="198.2" r="0.55" fill="#3276bb" opacity="0.7"/>
<polygon points="155.4,193.76 158.9,199.82 151.9,199.82" stroke="#3276bb" stroke-width="1.2" fill="none" />
<circle cx="155.4" cy="198" r="0.55" fill="#3276bb" opacity="0.7"/>
<polygon points="168.3,193.06 171.8,199.12 164.8,199.12" stroke="#3276bb" stroke-width="1.2" fill="none" />
<circle cx="168.3" cy="197.3" r="0.55" fill="#3276bb" opacity="0.7"/>
<polygon points="180.9,192.26 184.4,198.32 177.4,198.32" stroke="#3276bb" stroke-width="1.2" fill="none" />
<circle cx="180.9" cy="196.5" r="0.55" fill="#3276bb" opacity="0.7"/>
<polygon points="193.8,192.26 197.3,198.32 190.3,198.32" stroke="#3276bb" stroke-width="1.2" fill="none" />
<circle cx="193.8" cy="196.5" r="0.55" fill="#3276bb" opacity="0.7"/>
<polygon points="206.9,191.56 210.4,197.62 203.4,197.62" stroke="#3276bb" stroke-width="1.2" fill="none" />
<circle cx="206.9" cy="195.8" r="0.55" fill="#3276bb" opacity="0.7"/>
<polygon points="219.8,191.06 223.3,197.12 216.3,197.12" stroke="#3276bb" stroke-width="1.2" fill="none" />
<circle cx="219.8" cy="195.3" r="0.55" fill="#3276bb" opacity="0.7"/>
<rect x="44" y="186.3" width="202.2" height="138.3" stroke="#2a2a2a" stroke-width="1.3" fill="none" />
<line x1="40.5" y1="324.6" x2="44" y2="324.6" stroke="#2a2a2a" stroke-width="1.1" />
<text x="38.5" y="327.65" font-size="10.5" text-anchor="end" fill="#1a1a1a" stroke="#1a1a1a" stroke-width="0.22" font-weight="bold" font-style="normal" >0.0</text>
<line x1="40.5" y1="304.97" x2="44" y2="304.97" stroke="#2a2a2a" stroke-width="1.1" />
<text x="38.5" y="308.02" font-size="10.5" text-anchor="end" fill="#1a1a1a" stroke="#1a1a1a" stroke-width="0.22" font-weight="bold" font-style="normal" >0.2</text>
<line x1="40.5" y1="285.34" x2="44" y2="285.34" stroke="#2a2a2a" stroke-width="1.1" />
<text x="38.5" y="288.39" font-size="10.5" text-anchor="end" fill="#1a1a1a" stroke="#1a1a1a" stroke-width="0.22" font-weight="bold" font-style="normal" >0.4</text>
<line x1="40.5" y1="265.72" x2="44" y2="265.72" stroke="#2a2a2a" stroke-width="1.1" />
<text x="38.5" y="268.76" font-size="10.5" text-anchor="end" fill="#1a1a1a" stroke="#1a1a1a" stroke-width="0.22" font-weight="bold" font-style="normal" >0.6</text>
<line x1="40.5" y1="246.09" x2="44" y2="246.09" stroke="#2a2a2a" stroke-width="1.1" />
<text x="38.5" y="249.13" font-size="10.5" text-anchor="end" fill="#1a1a1a" stroke="#1a1a1a" stroke-width="0.22" font-weight="bold" font-style="normal" >0.8</text>
<line x1="40.5" y1="226.46" x2="44" y2="226.46" stroke="#2a2a2a" stroke-width="1.1" />
<text x="38.5" y="229.51" font-size="10.5" text-anchor="end" fill="#1a1a1a" stroke="#1a1a1a" stroke-width="0.22" font-weight="bold" font-style="normal" >1.0</text>
<line x1="40.5" y1="206.83" x2="44" y2="206.83" stroke="#2a2a2a" stroke-width="1.1" />
<text x="38.5" y="209.88" font-size="10.5" text-anchor="end" fill="#1a1a1a" stroke="#1a1a1a" stroke-width="0.22" font-weight="bold" font-style="normal" >1.2</text>
<line x1="40.5" y1="187.2" x2="44" y2="187.2" stroke="#2a2a2a" stroke-width="1.1" />
<text x="38.5" y="190.25" font-size="10.5" text-anchor="end" fill="#1a1a1a" stroke="#1a1a1a" stroke-width="0.22" font-weight="bold" font-style="normal" >1.4</text>
<line x1="52.8" y1="324.6" x2="52.8" y2="327.6" stroke="#2a2a2a" stroke-width="1.1" />
<text x="52.8" y="339.6" font-size="10.5" text-anchor="middle" fill="#1a1a1a" stroke="#1a1a1a" stroke-width="0.22" font-weight="bold" font-style="normal" >0</text>
<line x1="98.95" y1="324.6" x2="98.95" y2="327.6" stroke="#2a2a2a" stroke-width="1.1" />
<text x="98.95" y="339.6" font-size="10.5" text-anchor="middle" fill="#1a1a1a" stroke="#1a1a1a" stroke-width="0.22" font-weight="bold" font-style="normal" >100</text>
<line x1="145.1" y1="324.6" x2="145.1" y2="327.6" stroke="#2a2a2a" stroke-width="1.1" />
<text x="145.1" y="339.6" font-size="10.5" text-anchor="middle" fill="#1a1a1a" stroke="#1a1a1a" stroke-width="0.22" font-weight="bold" font-style="normal" >200</text>
<line x1="191.25" y1="324.6" x2="191.25" y2="327.6" stroke="#2a2a2a" stroke-width="1.1" />
<text x="191.25" y="339.6" font-size="10.5" text-anchor="middle" fill="#1a1a1a" stroke="#1a1a1a" stroke-width="0.22" font-weight="bold" font-style="normal" >300</text>
<line x1="237.4" y1="324.6" x2="237.4" y2="327.6" stroke="#2a2a2a" stroke-width="1.1" />
<text x="237.4" y="339.6" font-size="10.5" text-anchor="middle" fill="#1a1a1a" stroke="#1a1a1a" stroke-width="0.22" font-weight="bold" font-style="normal" >400</text>
<text x="145.4" y="353.4" font-size="12" text-anchor="middle" fill="#1a1a1a" stroke="#1a1a1a" stroke-width="0.22" font-weight="bold" font-style="normal" >Pressure (kPa)</text>
<text transform="translate(18.6,251.6) rotate(-90)" font-size="11.7" text-anchor="middle" fill="#1a1a1a" font-weight="bold" stroke="#1a1a1a" stroke-width="0.22">ΔC / C<tspan font-size="8.2" dy="2.6">0</tspan></text>
<text x="4.8" y="192.4" font-size="12.6" text-anchor="start" fill="#1a1a1a" stroke="#1a1a1a" stroke-width="0.22" font-weight="bold" font-style="normal" >(c)</text>
<rect x="127.4" y="295.6" width="4.8" height="4.8" stroke="#505050" stroke-width="1.1" fill="none" />
<text x="142.8" y="301.8" font-size="10.8" text-anchor="start" fill="#1a1a1a" stroke="#1a1a1a" stroke-width="0.22" font-weight="bold" font-style="normal" >0 wt%</text>
<circle cx="193" cy="298" r="2.8" stroke="#dc1820" stroke-width="1.1" fill="none"/>
<text x="204.2" y="301.8" font-size="10.8" text-anchor="start" fill="#1a1a1a" stroke="#1a1a1a" stroke-width="0.22" font-weight="bold" font-style="normal" >3.5 wt%</text>
<polygon points="130.4,307.76 133.9,313.82 126.9,313.82" stroke="#3276bb" stroke-width="1.1" fill="none" />
<text x="142.8" y="315.2" font-size="10.8" text-anchor="start" fill="#1a1a1a" stroke="#1a1a1a" stroke-width="0.22" font-weight="bold" font-style="normal" >4.0 wt%</text>
<polygon points="193,315.04 196.5,308.98 189.5,308.98" stroke="#46b04a" stroke-width="1.1" fill="none" />
<text x="204.2" y="315.2" font-size="10.8" text-anchor="start" fill="#1a1a1a" stroke="#1a1a1a" stroke-width="0.22" font-weight="bold" font-style="normal" >4.5 wt%</text>
<polyline points="290.6,318.96 290.99,319.15 291.38,318.65 291.77,318.91 292.16,319.37 292.54,319.38 292.93,318.45 293.32,318.55 293.71,318.36 294.1,318.83 294.49,318.34 294.88,318.85 295.27,319.08 295.65,318.63 296.04,319.11 296.43,319.01 296.82,318.33 297.21,318.97 297.6,318.61 297.99,318.8 298.38,318.64 298.76,319.13 299.15,318.83 299.54,318.49 299.93,318.95 300.32,319.24 300.71,318.67 301.1,318.57 301.49,318.77 301.88,319.42 302.26,319.47 302.65,319.11 303.04,319.38 303.43,319.31 303.82,318.75 304.21,318.41 304.6,319.08 304.99,318.97 305.37,318.73 305.76,318.57 306.15,318.79 306.54,318.86 306.93,318.62 307.32,318.65 307.71,318.85 308.1,319.33 308.48,319 308.87,318.64 309.26,318.63 309.65,318.85 310.04,318.55 310.84,266 311.21,262.78 311.79,263.22 312.37,262.62 312.96,263.18 313.54,263.01 314.12,263.49 314.71,263.55 315.29,263.47 315.87,263.46 316.46,263.02 317.04,263.44 317.62,262.98 318.2,263.3 318.79,262.96 319.37,263.12 319.95,262.59 320.54,262.84 321.12,263.86 321.7,262.82 322.29,263.47 322.87,263.41 323.45,263.51 324.04,263.17 324.62,263.34 325.2,262.59 325.79,262.6 326.37,262.78 326.95,262.71 327.54,262.64 328.12,262.68 328.7,263.27 329.29,262.76 329.87,263.83 330.45,263.45 331.04,263.26 331.62,263.49 332.2,262.87 332.78,263.8 333.37,263.67 333.95,263.52 334.53,263.17 335.12,263.68 335.7,263.54 336.28,263.42 336.87,263.78 337.45,263.39 338.03,263.01 338.62,263.27 339.2,262.77 339.78,262.77 340.37,263.52 340.95,263.6 341.53,263.86 342.12,263.69 342.7,263.26 343.28,262.63 343.87,263.18 344.45,263.8 345.03,263.6 345.62,263.18 346.2,263.14 346.78,262.81 347.36,262.75 347.95,262.6 348.53,263.75 349.11,263.4 349.7,262.7 350.28,263.08 351.06,270 351.84,305 353.29,310.5 354.75,311.64 355.24,312.23 355.72,313.23 356.21,313.49 356.7,313.62 357.18,313.69 357.67,314.44 358.15,315.09 358.64,314.73 359.13,314.55 359.61,314.77 360.1,315.03 360.58,316.29 361.07,315.99 361.56,316.54 362.04,315.92 362.53,316.2 363.01,316.88 363.5,317.28 363.99,316.76 364.47,316.57 364.96,317.66 365.44,317.09 365.93,317.75 366.42,317.16 366.9,317.91 367.39,318.18 367.87,318.14 368.36,317.79 368.85,318.31 369.33,317.69 369.82,317.97 370.3,318.17 370.79,318.78 371.28,317.98 371.76,318.91 372.25,318.87 372.73,319.13 373.22,318.46 373.71,318.31 374.19,318.4 374.68,319.14 375.16,319.35 375.65,319.07 376.14,318.84 376.62,318.64 377.11,319.33 377.59,319.41 378.08,318.5" stroke="#dc1820" stroke-width="1.5" fill="none" stroke-linejoin="round" />
<polyline points="378.08,318.3 378.57,317.96 379.05,318.7 379.54,318.72 380.02,318.08 380.51,318.04 381,318.22 381.48,318.35 381.97,317.81 382.45,318.7 382.94,318.34 383.43,318.63 383.91,317.98 384.4,318.86 384.88,318.6 385.37,318.11 385.86,318.84 386.34,318.54 386.83,318.71 387.31,317.75 387.8,317.77 388.29,318.59 388.77,318.07 389.26,318.32 389.74,317.89 390.23,318.87 390.72,318.3 391.2,318.69 391.69,317.79 392.17,318.27 392.66,317.77 393.15,318.76 393.63,318.23 394.12,317.78 394.6,317.79 395.09,318.35 395.58,317.79 396.06,317.92 396.55,318.22 397.03,318.3 397.52,318.4 398.01,318.44 398.49,318.15 398.98,318.44 399.46,317.89 399.95,318.03 400.44,318.66 400.92,317.88 401.41,317.97 401.89,317.99 402.38,318.28 402.87,317.7 403.35,317.74 403.84,318.25 404.32,317.9 404.3,300 405.3,222 405.78,219.65 406.37,219.81 406.95,219.51 407.53,219.67 408.11,219.25 408.7,218.76 409.28,219.32 409.86,219.22 410.45,219.54 411.03,218.89 411.61,219.02 412.2,219.84 412.78,219.07 413.36,219.27 413.95,220.01 414.53,219.09 415.11,218.9 415.7,219.68 416.28,219.49 416.86,219.56 417.45,218.76 418.03,219.28 418.61,218.71 419.2,219.05 419.78,219.69 420.36,218.79 420.95,219.11 421.53,220.08 422.11,220.06 422.69,219.37 423.28,219.73 423.86,219.59 424.44,219.35 425.03,219.9 425.61,218.94 426.19,219.86 426.78,218.76 427.36,219.91 427.94,219.65 428.53,219.32 429.11,219.64 429.69,219.34 430.28,219.79 430.86,218.86 431.44,219.41 432.03,219.92 432.61,220 433.19,219.01 433.78,219.05 434.36,219.97 434.94,219.18 435.53,218.78 436.11,219.7 436.69,219.28 437.27,219.73 437.86,219.37 438.44,219.4 439.02,219.28 439.61,219.11 440.19,219.96 440.77,219.64 441.36,219.8 441.94,219.95 442.52,219.05 443.11,219.99 443.69,219.91 444.27,219.41 444.86,219.5 445.44,218.86 446.02,219.77 446.61,218.94 447.19,219.45 447.77,218.88 448.36,218.8 448.94,219.55 449.52,219.39 450.11,219.64 450.69,219.81 451.27,220.08 451.85,218.82 452.44,219.58 453.02,219.51 453.6,219.61 454.19,219.46 454.77,219.48 455.35,219.92 455.94,219.33 456.52,219.45 457.1,219.67 457.69,218.83 458.27,219.3 458.95,225 459.53,300 460.7,309 461.67,309.77 462.16,310.29 462.64,310.58 463.13,311.25 463.62,311.66 464.1,312.39 464.59,312.81 465.07,313.44 465.56,313.35 466.05,314.13 466.53,313.8 467.02,314.48 467.5,314.49 467.99,314.8 468.48,314.59 468.96,315.59 469.45,315.58 469.93,315.01 470.42,315.64 470.91,316.35 471.39,315.36 471.88,315.8 472.36,316.46 472.85,315.74 473.34,316.7 473.82,316.6 474.31,316.89 474.79,316.77 475.28,317.32 475.77,316.69 476.25,317.04 476.74,316.49 477.22,317.16 477.71,317.07 478.2,317.8 478.68,317.82 479.17,316.9 479.65,316.84 480.14,316.98 480.63,317.11 481.11,317.79 481.6,317.61 482.08,317.64 482.57,317.59 483.06,317.07 483.54,317.57 484.03,318.32 484.51,318.13 485,317.86 485.49,317.44 485.97,318.33 486.46,317.75 486.94,318.01 487.43,317.53 487.92,317.69 488.4,317.73 488.89,317.8 489.37,317.37 489.86,318.15 490.35,317.58 490.83,318.11 491.32,318.14 491.8,318.24 492.29,317.77 492.78,317.78 493.26,318.34 493.75,317.91 494.23,317.63 494.2,317.6" stroke="#9a4ba6" stroke-width="1.5" fill="none" stroke-linejoin="round" />
<line x1="310.9" y1="277.5" x2="306.65" y2="261.86" stroke="#8e1b1b" stroke-width="1.3" />
<polygon points="305.6,258 309.42,262.14 306.6,261.67 304.4,263.51" stroke="#8e1b1b" stroke-width="0.3" fill="#8e1b1b" />
<line x1="351.2" y1="277.5" x2="355.37" y2="261.86" stroke="#8e1b1b" stroke-width="1.3" />
<polygon points="356.4,258 357.62,263.5 355.42,261.67 352.6,262.16" stroke="#8e1b1b" stroke-width="0.3" fill="#8e1b1b" />
<line x1="404" y1="268.5" x2="393.38" y2="247.08" stroke="#6a2a78" stroke-width="1.3" />
<polygon points="391.6,243.5 396.15,246.82 393.29,246.9 391.49,249.13" stroke="#6a2a78" stroke-width="0.3" fill="#6a2a78" />
<line x1="459.8" y1="269" x2="474.4" y2="246.84" stroke="#6a2a78" stroke-width="1.3" />
<polygon points="476.6,243.5 476.02,249.11 474.51,246.67 471.68,246.24" stroke="#6a2a78" stroke-width="0.3" fill="#6a2a78" />
<text x="318.3" y="281.7" font-size="9.8" text-anchor="start" fill="#cc2a2f" stroke="#cc2a2f" stroke-width="0.22" font-weight="bold" font-style="normal" >2.5kPa</text>
<text x="422.1" y="235.6" font-size="9.6" text-anchor="start" fill="#9a4ba6" stroke="#9a4ba6" stroke-width="0.22" font-weight="bold" font-style="normal" >5kPa</text>
<rect x="307" y="210.2" width="11.9" height="38.6" stroke="none" stroke-width="0" fill="#fbd4d4" />
<polyline points="302.3,246.6 305,246.2 305,246.2 305.45,245.85 305.9,245.43 306.35,244.93 306.8,244.34 307.25,243.65 307.7,242.84 308.15,241.91 308.6,240.85 309.05,239.65 309.5,238.32 309.95,236.86 310.4,235.28 310.85,233.61 311.3,231.87 311.75,230.1 312.2,228.33 312.65,226.59 313.1,224.92 313.55,223.34 314,221.88 314.45,220.55 314.9,219.35 315.35,218.29 315.8,217.36 316.25,216.55 316.7,215.86 317.15,215.27 317.6,214.77 318.05,214.35 318.5,214 321,212.6" stroke="#d8141e" stroke-width="1.8" fill="none" stroke-linejoin="round" />
<rect x="302.3" y="210.2" width="19.4" height="38.6" stroke="#2a2a2a" stroke-width="1.0" fill="none" />
<line x1="300.8" y1="210.6" x2="302.3" y2="210.6" stroke="#2a2a2a" stroke-width="0.8" />
<text x="301" y="213" font-size="7" text-anchor="end" fill="#1a1a1a" stroke="#1a1a1a" stroke-width="0.22" font-weight="bold" font-style="normal" >0.2</text>
<line x1="300.8" y1="228.6" x2="302.3" y2="228.6" stroke="#2a2a2a" stroke-width="0.8" />
<text x="301" y="231" font-size="7" text-anchor="end" fill="#1a1a1a" stroke="#1a1a1a" stroke-width="0.22" font-weight="bold" font-style="normal" >0.1</text>
<line x1="300.8" y1="246.6" x2="302.3" y2="246.6" stroke="#2a2a2a" stroke-width="0.8" />
<text x="301" y="249" font-size="7" text-anchor="end" fill="#1a1a1a" stroke="#1a1a1a" stroke-width="0.22" font-weight="bold" font-style="normal" >0.0</text>
<text x="303.3" y="256.5" font-size="7" text-anchor="middle" fill="#1a1a1a" stroke="#1a1a1a" stroke-width="0.22" font-weight="bold" font-style="normal" >1.9</text>
<text x="321.4" y="256.5" font-size="7" text-anchor="middle" fill="#1a1a1a" stroke="#1a1a1a" stroke-width="0.22" font-weight="bold" font-style="normal" >2.2</text>
<text x="312" y="207.2" font-size="7" text-anchor="middle" fill="#cc2a2f" stroke="#cc2a2f" stroke-width="0.22" font-weight="bold" font-style="normal" >200ms</text>
<rect x="345.1" y="210.2" width="14.4" height="38.6" stroke="none" stroke-width="0" fill="#fbd4d4" />
<polyline points="343.4,214.5 344,214.8 344.48,215.13 344.97,215.51 345.45,215.98 345.93,216.52 346.42,217.16 346.9,217.91 347.38,218.77 347.87,219.75 348.35,220.86 348.83,222.09 349.32,223.45 349.8,224.9 350.28,226.45 350.77,228.06 351.25,229.7 351.73,231.34 352.22,232.95 352.7,234.5 353.18,235.95 353.67,237.31 354.15,238.54 354.63,239.65 355.12,240.63 355.6,241.49 356.08,242.24 356.57,242.88 357.05,243.42 357.53,243.89 358.02,244.27 358.5,244.6 362,245.2" stroke="#d8141e" stroke-width="1.8" fill="none" stroke-linejoin="round" />
<rect x="343.4" y="210.2" width="18.6" height="38.6" stroke="#2a2a2a" stroke-width="1.0" fill="none" />
<line x1="341.9" y1="210.6" x2="343.4" y2="210.6" stroke="#2a2a2a" stroke-width="0.8" />
<text x="341.7" y="213" font-size="7" text-anchor="end" fill="#1a1a1a" stroke="#1a1a1a" stroke-width="0.22" font-weight="bold" font-style="normal" >0.2</text>
<line x1="341.9" y1="228.6" x2="343.4" y2="228.6" stroke="#2a2a2a" stroke-width="0.8" />
<text x="341.7" y="231" font-size="7" text-anchor="end" fill="#1a1a1a" stroke="#1a1a1a" stroke-width="0.22" font-weight="bold" font-style="normal" >0.1</text>
<line x1="341.9" y1="246.6" x2="343.4" y2="246.6" stroke="#2a2a2a" stroke-width="0.8" />
<text x="341.7" y="249" font-size="7" text-anchor="end" fill="#1a1a1a" stroke="#1a1a1a" stroke-width="0.22" font-weight="bold" font-style="normal" >0.0</text>
<text x="343.4" y="256.5" font-size="7" text-anchor="middle" fill="#1a1a1a" stroke="#1a1a1a" stroke-width="0.22" font-weight="bold" font-style="normal" >6.1</text>
<text x="362" y="256.5" font-size="7" text-anchor="middle" fill="#1a1a1a" stroke="#1a1a1a" stroke-width="0.22" font-weight="bold" font-style="normal" >6.4</text>
<text x="352.7" y="207.2" font-size="7" text-anchor="middle" fill="#cc2a2f" stroke="#cc2a2f" stroke-width="0.22" font-weight="bold" font-style="normal" >250ms</text>
<rect x="386.2" y="195.7" width="12.7" height="38.6" stroke="none" stroke-width="0" fill="#efdff1" />
<polyline points="380.9,230 383.5,228.5 383.5,228.5 384,228.09 384.5,227.61 385,227.07 385.5,226.45 386,225.76 386.5,224.98 387,224.12 387.5,223.17 388,222.13 388.5,221 389,219.81 389.5,218.54 390,217.23 390.5,215.87 391,214.5 391.5,213.13 392,211.77 392.5,210.46 393,209.19 393.5,208 394,206.87 394.5,205.83 395,204.88 395.5,204.02 396,203.24 396.5,202.55 397,201.93 397.5,201.39 398,200.91 398.5,200.5" stroke="#8a3a9a" stroke-width="1.8" fill="none" stroke-linejoin="round" />
<rect x="380.9" y="195.7" width="18" height="38.6" stroke="#2a2a2a" stroke-width="1.0" fill="none" />
<line x1="379.4" y1="195.9" x2="380.9" y2="195.9" stroke="#2a2a2a" stroke-width="0.8" />
<text x="379.3" y="198.3" font-size="7" text-anchor="end" fill="#1a1a1a" stroke="#1a1a1a" stroke-width="0.22" font-weight="bold" font-style="normal" >0.3</text>
<line x1="379.4" y1="207.9" x2="380.9" y2="207.9" stroke="#2a2a2a" stroke-width="0.8" />
<text x="379.3" y="210.3" font-size="7" text-anchor="end" fill="#1a1a1a" stroke="#1a1a1a" stroke-width="0.22" font-weight="bold" font-style="normal" >0.2</text>
<line x1="379.4" y1="219.8" x2="380.9" y2="219.8" stroke="#2a2a2a" stroke-width="0.8" />
<text x="379.3" y="222.2" font-size="7" text-anchor="end" fill="#1a1a1a" stroke="#1a1a1a" stroke-width="0.22" font-weight="bold" font-style="normal" >0.1</text>
<line x1="379.4" y1="231.9" x2="380.9" y2="231.9" stroke="#2a2a2a" stroke-width="0.8" />
<text x="379.3" y="234.3" font-size="7" text-anchor="end" fill="#1a1a1a" stroke="#1a1a1a" stroke-width="0.22" font-weight="bold" font-style="normal" >0.0</text>
<text x="381.5" y="242" font-size="7" text-anchor="middle" fill="#1a1a1a" stroke="#1a1a1a" stroke-width="0.22" font-weight="bold" font-style="normal" >11.5</text>
<text x="398.4" y="242" font-size="7" text-anchor="middle" fill="#1a1a1a" stroke="#1a1a1a" stroke-width="0.22" font-weight="bold" font-style="normal" >11.7</text>
<text x="389.9" y="192.7" font-size="7" text-anchor="middle" fill="#9a4ba6" stroke="#9a4ba6" stroke-width="0.22" font-weight="bold" font-style="normal" >150ms</text>
<rect x="473.4" y="195.6" width="16.6" height="39.4" stroke="none" stroke-width="0" fill="#efdff1" />
<polyline points="473,199.7 473.5,199.8 473.98,200.28 474.47,200.82 474.95,201.45 475.43,202.15 475.92,202.95 476.4,203.85 476.88,204.84 477.37,205.93 477.85,207.13 478.33,208.42 478.82,209.8 479.3,211.25 479.78,212.77 480.27,214.32 480.75,215.9 481.23,217.48 481.72,219.03 482.2,220.55 482.68,222 483.17,223.38 483.65,224.67 484.13,225.87 484.62,226.96 485.1,227.95 485.58,228.85 486.07,229.65 486.55,230.35 487.03,230.98 487.52,231.52 488,232 490,232.8" stroke="#8a3a9a" stroke-width="1.8" fill="none" stroke-linejoin="round" />
<rect x="473" y="195.6" width="17" height="39.4" stroke="#2a2a2a" stroke-width="1.0" fill="none" />
<line x1="471.5" y1="200.3" x2="473" y2="200.3" stroke="#2a2a2a" stroke-width="0.8" />
<text x="470.3" y="202.7" font-size="7" text-anchor="end" fill="#1a1a1a" stroke="#1a1a1a" stroke-width="0.22" font-weight="bold" font-style="normal" >0.3</text>
<line x1="471.5" y1="211.2" x2="473" y2="211.2" stroke="#2a2a2a" stroke-width="0.8" />
<text x="470.3" y="213.6" font-size="7" text-anchor="end" fill="#1a1a1a" stroke="#1a1a1a" stroke-width="0.22" font-weight="bold" font-style="normal" >0.2</text>
<line x1="471.5" y1="222.3" x2="473" y2="222.3" stroke="#2a2a2a" stroke-width="0.8" />
<text x="470.3" y="224.7" font-size="7" text-anchor="end" fill="#1a1a1a" stroke="#1a1a1a" stroke-width="0.22" font-weight="bold" font-style="normal" >0.1</text>
<line x1="471.5" y1="233" x2="473" y2="233" stroke="#2a2a2a" stroke-width="0.8" />
<text x="470.3" y="235.4" font-size="7" text-anchor="end" fill="#1a1a1a" stroke="#1a1a1a" stroke-width="0.22" font-weight="bold" font-style="normal" >0.0</text>
<text x="472.2" y="242.7" font-size="7" text-anchor="middle" fill="#1a1a1a" stroke="#1a1a1a" stroke-width="0.22" font-weight="bold" font-style="normal" >17.2</text>
<text x="489.1" y="242.7" font-size="7" text-anchor="middle" fill="#1a1a1a" stroke="#1a1a1a" stroke-width="0.22" font-weight="bold" font-style="normal" >17.5</text>
<text x="481.5" y="192.6" font-size="7" text-anchor="middle" fill="#9a4ba6" stroke="#9a4ba6" stroke-width="0.22" font-weight="bold" font-style="normal" >250ms</text>
<rect x="290.6" y="185.9" width="204.2" height="140.6" stroke="#2a2a2a" stroke-width="1.3" fill="none" />
<line x1="287.1" y1="319.5" x2="290.6" y2="319.5" stroke="#2a2a2a" stroke-width="1.1" />
<text x="285.4" y="322.55" font-size="10.5" text-anchor="end" fill="#1a1a1a" stroke="#1a1a1a" stroke-width="0.22" font-weight="bold" font-style="normal" >0.0</text>
<line x1="287.1" y1="286.25" x2="290.6" y2="286.25" stroke="#2a2a2a" stroke-width="1.1" />
<text x="285.4" y="289.3" font-size="10.5" text-anchor="end" fill="#1a1a1a" stroke="#1a1a1a" stroke-width="0.22" font-weight="bold" font-style="normal" >0.1</text>
<line x1="287.1" y1="253" x2="290.6" y2="253" stroke="#2a2a2a" stroke-width="1.1" />
<text x="285.4" y="256.05" font-size="10.5" text-anchor="end" fill="#1a1a1a" stroke="#1a1a1a" stroke-width="0.22" font-weight="bold" font-style="normal" >0.2</text>
<line x1="287.1" y1="219.75" x2="290.6" y2="219.75" stroke="#2a2a2a" stroke-width="1.1" />
<text x="285.4" y="222.79" font-size="10.5" text-anchor="end" fill="#1a1a1a" stroke="#1a1a1a" stroke-width="0.22" font-weight="bold" font-style="normal" >0.3</text>
<line x1="287.1" y1="186.5" x2="290.6" y2="186.5" stroke="#2a2a2a" stroke-width="1.1" />
<text x="285.4" y="189.54" font-size="10.5" text-anchor="end" fill="#1a1a1a" stroke="#1a1a1a" stroke-width="0.22" font-weight="bold" font-style="normal" >0.4</text>
<line x1="288.8" y1="302.88" x2="290.6" y2="302.88" stroke="#2a2a2a" stroke-width="1.0" />
<line x1="288.8" y1="269.62" x2="290.6" y2="269.62" stroke="#2a2a2a" stroke-width="1.0" />
<line x1="288.8" y1="236.38" x2="290.6" y2="236.38" stroke="#2a2a2a" stroke-width="1.0" />
<line x1="288.8" y1="203.12" x2="290.6" y2="203.12" stroke="#2a2a2a" stroke-width="1.0" />
<line x1="290.6" y1="326.5" x2="290.6" y2="329.5" stroke="#2a2a2a" stroke-width="1.1" />
<text x="290.6" y="341.2" font-size="10.5" text-anchor="middle" fill="#1a1a1a" stroke="#1a1a1a" stroke-width="0.22" font-weight="bold" font-style="normal" >0</text>
<line x1="339.2" y1="326.5" x2="339.2" y2="329.5" stroke="#2a2a2a" stroke-width="1.1" />
<text x="339.2" y="341.2" font-size="10.5" text-anchor="middle" fill="#1a1a1a" stroke="#1a1a1a" stroke-width="0.22" font-weight="bold" font-style="normal" >5</text>
<line x1="387.8" y1="326.5" x2="387.8" y2="329.5" stroke="#2a2a2a" stroke-width="1.1" />
<text x="387.8" y="341.2" font-size="10.5" text-anchor="middle" fill="#1a1a1a" stroke="#1a1a1a" stroke-width="0.22" font-weight="bold" font-style="normal" >10</text>
<line x1="436.4" y1="326.5" x2="436.4" y2="329.5" stroke="#2a2a2a" stroke-width="1.1" />
<text x="436.4" y="341.2" font-size="10.5" text-anchor="middle" fill="#1a1a1a" stroke="#1a1a1a" stroke-width="0.22" font-weight="bold" font-style="normal" >15</text>
<line x1="485" y1="326.5" x2="485" y2="329.5" stroke="#2a2a2a" stroke-width="1.1" />
<text x="485" y="341.2" font-size="10.5" text-anchor="middle" fill="#1a1a1a" stroke="#1a1a1a" stroke-width="0.22" font-weight="bold" font-style="normal" >20</text>
<line x1="314.9" y1="326.5" x2="314.9" y2="328.3" stroke="#2a2a2a" stroke-width="1.0" />
<line x1="363.5" y1="326.5" x2="363.5" y2="328.3" stroke="#2a2a2a" stroke-width="1.0" />
<line x1="412.1" y1="326.5" x2="412.1" y2="328.3" stroke="#2a2a2a" stroke-width="1.0" />
<line x1="460.7" y1="326.5" x2="460.7" y2="328.3" stroke="#2a2a2a" stroke-width="1.0" />
<text x="397.8" y="353.8" font-size="12" text-anchor="middle" fill="#1a1a1a" stroke="#1a1a1a" stroke-width="0.22" font-weight="bold" font-style="normal" >Time (s)</text>
<text transform="translate(267,255.7) rotate(-90)" font-size="11.7" text-anchor="middle" fill="#1a1a1a" font-weight="bold" stroke="#1a1a1a" stroke-width="0.22">ΔC / C<tspan font-size="8.2" dy="2.6">0</tspan></text>
<text x="254.8" y="190.4" font-size="12.6" text-anchor="start" fill="#1a1a1a" stroke="#1a1a1a" stroke-width="0.22" font-weight="bold" font-style="normal" >(d)</text>
<defs><linearGradient id="eg0" x1="0" y1="0" x2="0" y2="1"><stop offset="0" stop-color="#e02a2a"/><stop offset="0.14" stop-color="#e02a2a"/><stop offset="0.3" stop-color="#e02a2a" stop-opacity="0.5"/><stop offset="0.82" stop-color="#e02a2a" stop-opacity="0.45"/><stop offset="0.92" stop-color="#e02a2a"/><stop offset="1" stop-color="#e02a2a"/></linearGradient></defs>
<path d="M42.2,433 L43.31,420.16 L44.36,417.66 L45.4,420.16 L45.68,433 Z" fill="#f7c4c4" stroke="none"/>
<path d="M45.68,433 L46.79,419.12 L47.84,416.62 L48.88,419.12 L49.16,433 Z" fill="#f7c4c4" stroke="none"/>
<path d="M49.16,433 L50.27,420.18 L51.32,417.68 L52.36,420.18 L52.64,433 Z" fill="#f7c4c4" stroke="none"/>
<path d="M52.64,433 L53.75,419.04 L54.8,416.54 L55.84,419.04 L56.12,433 Z" fill="#f7c4c4" stroke="none"/>
<path d="M56.12,433 L57.23,419.73 L58.28,417.23 L59.32,419.73 L59.6,433 Z" fill="#f7c4c4" stroke="none"/>
<path d="M59.6,433 L60.71,419.53 L61.76,417.03 L62.8,419.53 L63.08,433 Z" fill="#f7c4c4" stroke="none"/>
<path d="M63.08,433 L64.19,419.29 L65.24,416.79 L66.28,419.29 L66.56,433 Z" fill="#f7c4c4" stroke="none"/>
<path d="M66.56,433 L67.67,419.68 L68.72,417.18 L69.76,419.68 L70.04,433 Z" fill="#f7c4c4" stroke="none"/>
<path d="M70.04,433 L71.15,420.04 L72.2,417.54 L73.24,420.04 L73.52,433 Z" fill="#f7c4c4" stroke="none"/>
<path d="M73.52,433 L74.63,420.21 L75.68,417.71 L76.72,420.21 L77,433 Z" fill="#f7c4c4" stroke="none"/>
<path d="M43.76,433 L43.76,419.66 L44.36,417.16 L44.96,419.66 L44.96,433 Z" fill="url(#eg0)" stroke="none"/>
<rect x="42.44" y="430.2" width="1.57" height="2.8" fill="#e02a2a" opacity="0.75"/>
<path d="M47.24,433 L47.24,418.62 L47.84,416.12 L48.44,418.62 L48.44,433 Z" fill="url(#eg0)" stroke="none"/>
<rect x="45.92" y="430.2" width="1.57" height="2.8" fill="#e02a2a" opacity="0.75"/>
<path d="M50.72,433 L50.72,419.68 L51.32,417.18 L51.92,419.68 L51.92,433 Z" fill="url(#eg0)" stroke="none"/>
<rect x="49.4" y="430.2" width="1.57" height="2.8" fill="#e02a2a" opacity="0.75"/>
<path d="M54.2,433 L54.2,418.54 L54.8,416.04 L55.4,418.54 L55.4,433 Z" fill="url(#eg0)" stroke="none"/>
<rect x="52.88" y="430.2" width="1.57" height="2.8" fill="#e02a2a" opacity="0.75"/>
<path d="M57.68,433 L57.68,419.23 L58.28,416.73 L58.88,419.23 L58.88,433 Z" fill="url(#eg0)" stroke="none"/>
<rect x="56.36" y="430.2" width="1.57" height="2.8" fill="#e02a2a" opacity="0.75"/>
<path d="M61.16,433 L61.16,419.03 L61.76,416.53 L62.36,419.03 L62.36,433 Z" fill="url(#eg0)" stroke="none"/>
<rect x="59.84" y="430.2" width="1.57" height="2.8" fill="#e02a2a" opacity="0.75"/>
<path d="M64.64,433 L64.64,418.79 L65.24,416.29 L65.84,418.79 L65.84,433 Z" fill="url(#eg0)" stroke="none"/>
<rect x="63.32" y="430.2" width="1.57" height="2.8" fill="#e02a2a" opacity="0.75"/>
<path d="M68.12,433 L68.12,419.18 L68.72,416.68 L69.32,419.18 L69.32,433 Z" fill="url(#eg0)" stroke="none"/>
<rect x="66.8" y="430.2" width="1.57" height="2.8" fill="#e02a2a" opacity="0.75"/>
<path d="M71.6,433 L71.6,419.54 L72.2,417.04 L72.8,419.54 L72.8,433 Z" fill="url(#eg0)" stroke="none"/>
<rect x="70.28" y="430.2" width="1.57" height="2.8" fill="#e02a2a" opacity="0.75"/>
<path d="M75.08,433 L75.08,419.71 L75.68,417.21 L76.28,419.71 L76.28,433 Z" fill="url(#eg0)" stroke="none"/>
<rect x="73.76" y="430.2" width="1.57" height="2.8" fill="#e02a2a" opacity="0.75"/>
<defs><linearGradient id="eg1" x1="0" y1="0" x2="0" y2="1"><stop offset="0" stop-color="#3b7fc0"/><stop offset="0.14" stop-color="#3b7fc0"/><stop offset="0.3" stop-color="#3b7fc0" stop-opacity="0.5"/><stop offset="0.82" stop-color="#3b7fc0" stop-opacity="0.45"/><stop offset="0.92" stop-color="#3b7fc0"/><stop offset="1" stop-color="#3b7fc0"/></linearGradient></defs>
<path d="M77,433 L78.19,410.9 L79.31,408.4 L80.42,410.9 L80.72,433 Z" fill="#c4d8ee" stroke="none"/>
<path d="M80.72,433 L81.91,409.18 L83.03,406.68 L84.14,409.18 L84.44,433 Z" fill="#c4d8ee" stroke="none"/>
<path d="M84.44,433 L85.63,409.96 L86.75,407.46 L87.86,409.96 L88.16,433 Z" fill="#c4d8ee" stroke="none"/>
<path d="M88.16,433 L89.35,410.7 L90.47,408.2 L91.58,410.7 L91.88,433 Z" fill="#c4d8ee" stroke="none"/>
<path d="M91.88,433 L93.07,408.81 L94.19,406.31 L95.3,408.81 L95.6,433 Z" fill="#c4d8ee" stroke="none"/>
<path d="M95.6,433 L96.79,410.39 L97.91,407.89 L99.02,410.39 L99.32,433 Z" fill="#c4d8ee" stroke="none"/>
<path d="M99.32,433 L100.51,410.03 L101.63,407.53 L102.74,410.03 L103.04,433 Z" fill="#c4d8ee" stroke="none"/>
<path d="M103.04,433 L104.23,410.34 L105.35,407.84 L106.46,410.34 L106.76,433 Z" fill="#c4d8ee" stroke="none"/>
<path d="M106.76,433 L107.95,409.47 L109.07,406.97 L110.18,409.47 L110.48,433 Z" fill="#c4d8ee" stroke="none"/>
<path d="M110.48,433 L111.67,409.6 L112.79,407.1 L113.9,409.6 L114.2,433 Z" fill="#c4d8ee" stroke="none"/>
<path d="M78.71,433 L78.71,410.4 L79.31,407.9 L79.91,410.4 L79.91,433 Z" fill="url(#eg1)" stroke="none"/>
<rect x="77.26" y="430.2" width="1.67" height="2.8" fill="#3b7fc0" opacity="0.75"/>
<path d="M82.43,433 L82.43,408.68 L83.03,406.18 L83.63,408.68 L83.63,433 Z" fill="url(#eg1)" stroke="none"/>
<rect x="80.98" y="430.2" width="1.67" height="2.8" fill="#3b7fc0" opacity="0.75"/>
<path d="M86.15,433 L86.15,409.46 L86.75,406.96 L87.35,409.46 L87.35,433 Z" fill="url(#eg1)" stroke="none"/>
<rect x="84.7" y="430.2" width="1.67" height="2.8" fill="#3b7fc0" opacity="0.75"/>
<path d="M89.87,433 L89.87,410.2 L90.47,407.7 L91.07,410.2 L91.07,433 Z" fill="url(#eg1)" stroke="none"/>
<rect x="88.42" y="430.2" width="1.67" height="2.8" fill="#3b7fc0" opacity="0.75"/>
<path d="M93.59,433 L93.59,408.31 L94.19,405.81 L94.79,408.31 L94.79,433 Z" fill="url(#eg1)" stroke="none"/>
<rect x="92.14" y="430.2" width="1.67" height="2.8" fill="#3b7fc0" opacity="0.75"/>
<path d="M97.31,433 L97.31,409.89 L97.91,407.39 L98.51,409.89 L98.51,433 Z" fill="url(#eg1)" stroke="none"/>
<rect x="95.86" y="430.2" width="1.67" height="2.8" fill="#3b7fc0" opacity="0.75"/>
<path d="M101.03,433 L101.03,409.53 L101.63,407.03 L102.23,409.53 L102.23,433 Z" fill="url(#eg1)" stroke="none"/>
<rect x="99.58" y="430.2" width="1.67" height="2.8" fill="#3b7fc0" opacity="0.75"/>
<path d="M104.75,433 L104.75,409.84 L105.35,407.34 L105.95,409.84 L105.95,433 Z" fill="url(#eg1)" stroke="none"/>
<rect x="103.3" y="430.2" width="1.67" height="2.8" fill="#3b7fc0" opacity="0.75"/>
<path d="M108.47,433 L108.47,408.97 L109.07,406.47 L109.67,408.97 L109.67,433 Z" fill="url(#eg1)" stroke="none"/>
<rect x="107.02" y="430.2" width="1.67" height="2.8" fill="#3b7fc0" opacity="0.75"/>
<path d="M112.19,433 L112.19,409.1 L112.79,406.6 L113.39,409.1 L113.39,433 Z" fill="url(#eg1)" stroke="none"/>
<rect x="110.74" y="430.2" width="1.67" height="2.8" fill="#3b7fc0" opacity="0.75"/>
<defs><linearGradient id="eg2" x1="0" y1="0" x2="0" y2="1"><stop offset="0" stop-color="#46a846"/><stop offset="0.14" stop-color="#46a846"/><stop offset="0.3" stop-color="#46a846" stop-opacity="0.5"/><stop offset="0.82" stop-color="#46a846" stop-opacity="0.45"/><stop offset="0.92" stop-color="#46a846"/><stop offset="1" stop-color="#46a846"/></linearGradient></defs>
<path d="M114.2,433 L115.45,400.04 L116.62,397.54 L117.8,400.04 L118.11,433 Z" fill="#c8e8c4" stroke="none"/>
<path d="M118.11,433 L119.36,401.23 L120.53,398.73 L121.71,401.23 L122.02,433 Z" fill="#c8e8c4" stroke="none"/>
<path d="M122.02,433 L123.27,401.16 L124.44,398.66 L125.62,401.16 L125.93,433 Z" fill="#c8e8c4" stroke="none"/>
<path d="M125.93,433 L127.18,401.27 L128.35,398.77 L129.53,401.27 L129.84,433 Z" fill="#c8e8c4" stroke="none"/>
<path d="M129.84,433 L131.09,401.01 L132.26,398.51 L133.44,401.01 L133.75,433 Z" fill="#c8e8c4" stroke="none"/>
<path d="M133.75,433 L135,401.66 L136.17,399.16 L137.35,401.66 L137.66,433 Z" fill="#c8e8c4" stroke="none"/>
<path d="M137.66,433 L138.91,401.59 L140.08,399.09 L141.26,401.59 L141.57,433 Z" fill="#c8e8c4" stroke="none"/>
<path d="M141.57,433 L142.82,398.74 L143.99,396.24 L145.17,398.74 L145.48,433 Z" fill="#c8e8c4" stroke="none"/>
<path d="M145.48,433 L146.73,398.75 L147.9,396.25 L149.08,398.75 L149.39,433 Z" fill="#c8e8c4" stroke="none"/>
<path d="M149.39,433 L150.64,401.51 L151.81,399.01 L152.99,401.51 L153.3,433 Z" fill="#c8e8c4" stroke="none"/>
<path d="M116.02,433 L116.02,399.54 L116.62,397.04 L117.22,399.54 L117.22,433 Z" fill="url(#eg2)" stroke="none"/>
<rect x="114.47" y="430.2" width="1.76" height="2.8" fill="#46a846" opacity="0.75"/>
<path d="M119.93,433 L119.93,400.73 L120.53,398.23 L121.13,400.73 L121.13,433 Z" fill="url(#eg2)" stroke="none"/>
<rect x="118.38" y="430.2" width="1.76" height="2.8" fill="#46a846" opacity="0.75"/>
<path d="M123.84,433 L123.84,400.66 L124.44,398.16 L125.04,400.66 L125.04,433 Z" fill="url(#eg2)" stroke="none"/>
<rect x="122.29" y="430.2" width="1.76" height="2.8" fill="#46a846" opacity="0.75"/>
<path d="M127.75,433 L127.75,400.77 L128.35,398.27 L128.95,400.77 L128.95,433 Z" fill="url(#eg2)" stroke="none"/>
<rect x="126.2" y="430.2" width="1.76" height="2.8" fill="#46a846" opacity="0.75"/>
<path d="M131.66,433 L131.66,400.51 L132.26,398.01 L132.86,400.51 L132.86,433 Z" fill="url(#eg2)" stroke="none"/>
<rect x="130.11" y="430.2" width="1.76" height="2.8" fill="#46a846" opacity="0.75"/>
<path d="M135.57,433 L135.57,401.16 L136.17,398.66 L136.77,401.16 L136.77,433 Z" fill="url(#eg2)" stroke="none"/>
<rect x="134.02" y="430.2" width="1.76" height="2.8" fill="#46a846" opacity="0.75"/>
<path d="M139.48,433 L139.48,401.09 L140.08,398.59 L140.68,401.09 L140.68,433 Z" fill="url(#eg2)" stroke="none"/>
<rect x="137.93" y="430.2" width="1.76" height="2.8" fill="#46a846" opacity="0.75"/>
<path d="M143.39,433 L143.39,398.24 L143.99,395.74 L144.59,398.24 L144.59,433 Z" fill="url(#eg2)" stroke="none"/>
<rect x="141.84" y="430.2" width="1.76" height="2.8" fill="#46a846" opacity="0.75"/>
<path d="M147.3,433 L147.3,398.25 L147.9,395.75 L148.5,398.25 L148.5,433 Z" fill="url(#eg2)" stroke="none"/>
<rect x="145.75" y="430.2" width="1.76" height="2.8" fill="#46a846" opacity="0.75"/>
<path d="M151.21,433 L151.21,401.01 L151.81,398.51 L152.41,401.01 L152.41,433 Z" fill="url(#eg2)" stroke="none"/>
<rect x="149.66" y="430.2" width="1.76" height="2.8" fill="#46a846" opacity="0.75"/>
<defs><linearGradient id="eg3" x1="0" y1="0" x2="0" y2="1"><stop offset="0" stop-color="#9a4ba6"/><stop offset="0.14" stop-color="#9a4ba6"/><stop offset="0.3" stop-color="#9a4ba6" stop-opacity="0.5"/><stop offset="0.82" stop-color="#9a4ba6" stop-opacity="0.45"/><stop offset="0.92" stop-color="#9a4ba6"/><stop offset="1" stop-color="#9a4ba6"/></linearGradient></defs>
<path d="M153.3,433 L154.64,390.62 L155.9,388.12 L157.15,390.62 L157.49,433 Z" fill="#e4cce9" stroke="none"/>
<path d="M157.49,433 L158.83,389.76 L160.09,387.26 L161.34,389.76 L161.68,433 Z" fill="#e4cce9" stroke="none"/>
<path d="M161.68,433 L163.02,387.38 L164.28,384.88 L165.53,387.38 L165.87,433 Z" fill="#e4cce9" stroke="none"/>
<path d="M165.87,433 L167.21,387 L168.47,384.5 L169.72,387 L170.06,433 Z" fill="#e4cce9" stroke="none"/>
<path d="M170.06,433 L171.4,390.63 L172.66,388.13 L173.91,390.63 L174.25,433 Z" fill="#e4cce9" stroke="none"/>
<path d="M174.25,433 L175.59,387.96 L176.85,385.46 L178.1,387.96 L178.44,433 Z" fill="#e4cce9" stroke="none"/>
<path d="M178.44,433 L179.78,390.73 L181.04,388.23 L182.29,390.73 L182.63,433 Z" fill="#e4cce9" stroke="none"/>
<path d="M182.63,433 L183.97,388.26 L185.23,385.76 L186.48,388.26 L186.82,433 Z" fill="#e4cce9" stroke="none"/>
<path d="M186.82,433 L188.16,387.67 L189.42,385.17 L190.67,387.67 L191.01,433 Z" fill="#e4cce9" stroke="none"/>
<path d="M191.01,433 L192.35,386.01 L193.61,383.51 L194.86,386.01 L195.2,433 Z" fill="#e4cce9" stroke="none"/>
<path d="M155.3,433 L155.3,390.12 L155.9,387.62 L156.5,390.12 L156.5,433 Z" fill="url(#eg3)" stroke="none"/>
<rect x="153.59" y="430.2" width="1.89" height="2.8" fill="#9a4ba6" opacity="0.75"/>
<path d="M159.49,433 L159.49,389.26 L160.09,386.76 L160.69,389.26 L160.69,433 Z" fill="url(#eg3)" stroke="none"/>
<rect x="157.78" y="430.2" width="1.89" height="2.8" fill="#9a4ba6" opacity="0.75"/>
<path d="M163.68,433 L163.68,386.88 L164.28,384.38 L164.88,386.88 L164.88,433 Z" fill="url(#eg3)" stroke="none"/>
<rect x="161.97" y="430.2" width="1.89" height="2.8" fill="#9a4ba6" opacity="0.75"/>
<path d="M167.87,433 L167.87,386.5 L168.47,384 L169.07,386.5 L169.07,433 Z" fill="url(#eg3)" stroke="none"/>
<rect x="166.16" y="430.2" width="1.89" height="2.8" fill="#9a4ba6" opacity="0.75"/>
<path d="M172.06,433 L172.06,390.13 L172.66,387.63 L173.26,390.13 L173.26,433 Z" fill="url(#eg3)" stroke="none"/>
<rect x="170.35" y="430.2" width="1.89" height="2.8" fill="#9a4ba6" opacity="0.75"/>
<path d="M176.25,433 L176.25,387.46 L176.85,384.96 L177.45,387.46 L177.45,433 Z" fill="url(#eg3)" stroke="none"/>
<rect x="174.54" y="430.2" width="1.89" height="2.8" fill="#9a4ba6" opacity="0.75"/>
<path d="M180.44,433 L180.44,390.23 L181.04,387.73 L181.64,390.23 L181.64,433 Z" fill="url(#eg3)" stroke="none"/>
<rect x="178.73" y="430.2" width="1.89" height="2.8" fill="#9a4ba6" opacity="0.75"/>
<path d="M184.63,433 L184.63,387.76 L185.23,385.26 L185.83,387.76 L185.83,433 Z" fill="url(#eg3)" stroke="none"/>
<rect x="182.92" y="430.2" width="1.89" height="2.8" fill="#9a4ba6" opacity="0.75"/>
<path d="M188.82,433 L188.82,387.17 L189.42,384.67 L190.02,387.17 L190.02,433 Z" fill="url(#eg3)" stroke="none"/>
<rect x="187.11" y="430.2" width="1.89" height="2.8" fill="#9a4ba6" opacity="0.75"/>
<path d="M193.01,433 L193.01,385.51 L193.61,383.01 L194.21,385.51 L194.21,433 Z" fill="url(#eg3)" stroke="none"/>
<rect x="191.3" y="430.2" width="1.89" height="2.8" fill="#9a4ba6" opacity="0.75"/>
<defs><linearGradient id="eg4" x1="0" y1="0" x2="0" y2="1"><stop offset="0" stop-color="#f08a1c"/><stop offset="0.14" stop-color="#f08a1c"/><stop offset="0.3" stop-color="#f08a1c" stop-opacity="0.5"/><stop offset="0.82" stop-color="#f08a1c" stop-opacity="0.45"/><stop offset="0.92" stop-color="#f08a1c"/><stop offset="1" stop-color="#f08a1c"/></linearGradient></defs>
<path d="M195.2,433 L196.57,384.18 L197.85,381.68 L199.13,384.18 L199.47,433 Z" fill="#f9ddb8" stroke="none"/>
<path d="M199.47,433 L200.84,381.27 L202.12,378.77 L203.4,381.27 L203.74,433 Z" fill="#f9ddb8" stroke="none"/>
<path d="M203.74,433 L205.11,380.9 L206.39,378.4 L207.67,380.9 L208.01,433 Z" fill="#f9ddb8" stroke="none"/>
<path d="M208.01,433 L209.38,380.62 L210.66,378.12 L211.94,380.62 L212.28,433 Z" fill="#f9ddb8" stroke="none"/>
<path d="M212.28,433 L213.65,385.56 L214.93,383.06 L216.21,385.56 L216.55,433 Z" fill="#f9ddb8" stroke="none"/>
<path d="M216.55,433 L217.92,383.05 L219.2,380.55 L220.48,383.05 L220.82,433 Z" fill="#f9ddb8" stroke="none"/>
<path d="M220.82,433 L222.19,380.31 L223.47,377.81 L224.75,380.31 L225.09,433 Z" fill="#f9ddb8" stroke="none"/>
<path d="M225.09,433 L226.46,383.43 L227.74,380.93 L229.02,383.43 L229.36,433 Z" fill="#f9ddb8" stroke="none"/>
<path d="M229.36,433 L230.73,381.21 L232.01,378.71 L233.29,381.21 L233.63,433 Z" fill="#f9ddb8" stroke="none"/>
<path d="M233.63,433 L235,382.64 L236.28,380.14 L237.56,382.64 L237.9,433 Z" fill="#f9ddb8" stroke="none"/>
<path d="M197.25,433 L197.25,383.68 L197.85,381.18 L198.45,383.68 L198.45,433 Z" fill="url(#eg4)" stroke="none"/>
<rect x="195.5" y="430.2" width="1.92" height="2.8" fill="#f08a1c" opacity="0.75"/>
<path d="M201.52,433 L201.52,380.77 L202.12,378.27 L202.72,380.77 L202.72,433 Z" fill="url(#eg4)" stroke="none"/>
<rect x="199.77" y="430.2" width="1.92" height="2.8" fill="#f08a1c" opacity="0.75"/>
<path d="M205.79,433 L205.79,380.4 L206.39,377.9 L206.99,380.4 L206.99,433 Z" fill="url(#eg4)" stroke="none"/>
<rect x="204.04" y="430.2" width="1.92" height="2.8" fill="#f08a1c" opacity="0.75"/>
<path d="M210.06,433 L210.06,380.12 L210.66,377.62 L211.26,380.12 L211.26,433 Z" fill="url(#eg4)" stroke="none"/>
<rect x="208.31" y="430.2" width="1.92" height="2.8" fill="#f08a1c" opacity="0.75"/>
<path d="M214.33,433 L214.33,385.06 L214.93,382.56 L215.53,385.06 L215.53,433 Z" fill="url(#eg4)" stroke="none"/>
<rect x="212.58" y="430.2" width="1.92" height="2.8" fill="#f08a1c" opacity="0.75"/>
<path d="M218.6,433 L218.6,382.55 L219.2,380.05 L219.8,382.55 L219.8,433 Z" fill="url(#eg4)" stroke="none"/>
<rect x="216.85" y="430.2" width="1.92" height="2.8" fill="#f08a1c" opacity="0.75"/>
<path d="M222.87,433 L222.87,379.81 L223.47,377.31 L224.07,379.81 L224.07,433 Z" fill="url(#eg4)" stroke="none"/>
<rect x="221.12" y="430.2" width="1.92" height="2.8" fill="#f08a1c" opacity="0.75"/>
<path d="M227.14,433 L227.14,382.93 L227.74,380.43 L228.34,382.93 L228.34,433 Z" fill="url(#eg4)" stroke="none"/>
<rect x="225.39" y="430.2" width="1.92" height="2.8" fill="#f08a1c" opacity="0.75"/>
<path d="M231.41,433 L231.41,380.71 L232.01,378.21 L232.61,380.71 L232.61,433 Z" fill="url(#eg4)" stroke="none"/>
<rect x="229.66" y="430.2" width="1.92" height="2.8" fill="#f08a1c" opacity="0.75"/>
<path d="M235.68,433 L235.68,382.14 L236.28,379.64 L236.88,382.14 L236.88,433 Z" fill="url(#eg4)" stroke="none"/>
<rect x="233.93" y="430.2" width="1.92" height="2.8" fill="#f08a1c" opacity="0.75"/>
<rect x="41.6" y="364.6" width="197.9" height="69.6" stroke="#2a2a2a" stroke-width="1.3" fill="none" />
<line x1="38.1" y1="432.4" x2="41.6" y2="432.4" stroke="#2a2a2a" stroke-width="1.1" />
<text x="36.6" y="435.59" font-size="11" text-anchor="end" fill="#1a1a1a" stroke="#1a1a1a" stroke-width="0.22" font-weight="bold" font-style="normal" >0.0</text>
<line x1="38.1" y1="415.55" x2="41.6" y2="415.55" stroke="#2a2a2a" stroke-width="1.1" />
<text x="36.6" y="418.74" font-size="11" text-anchor="end" fill="#1a1a1a" stroke="#1a1a1a" stroke-width="0.22" font-weight="bold" font-style="normal" >1.0</text>
<line x1="38.1" y1="398.7" x2="41.6" y2="398.7" stroke="#2a2a2a" stroke-width="1.1" />
<text x="36.6" y="401.89" font-size="11" text-anchor="end" fill="#1a1a1a" stroke="#1a1a1a" stroke-width="0.22" font-weight="bold" font-style="normal" >2.0</text>
<line x1="38.1" y1="381.85" x2="41.6" y2="381.85" stroke="#2a2a2a" stroke-width="1.1" />
<text x="36.6" y="385.04" font-size="11" text-anchor="end" fill="#1a1a1a" stroke="#1a1a1a" stroke-width="0.22" font-weight="bold" font-style="normal" >3.0</text>
<line x1="38.1" y1="365" x2="41.6" y2="365" stroke="#2a2a2a" stroke-width="1.1" />
<text x="36.6" y="368.19" font-size="11" text-anchor="end" fill="#1a1a1a" stroke="#1a1a1a" stroke-width="0.22" font-weight="bold" font-style="normal" >4.0</text>
<line x1="39.8" y1="423.97" x2="41.6" y2="423.97" stroke="#2a2a2a" stroke-width="1.0" />
<line x1="39.8" y1="407.12" x2="41.6" y2="407.12" stroke="#2a2a2a" stroke-width="1.0" />
<line x1="39.8" y1="390.27" x2="41.6" y2="390.27" stroke="#2a2a2a" stroke-width="1.0" />
<line x1="39.8" y1="373.42" x2="41.6" y2="373.42" stroke="#2a2a2a" stroke-width="1.0" />
<line x1="41.9" y1="434.2" x2="41.9" y2="437.2" stroke="#2a2a2a" stroke-width="1.1" />
<text x="41.9" y="448.6" font-size="11.2" text-anchor="middle" fill="#1a1a1a" stroke="#1a1a1a" stroke-width="0.22" font-weight="bold" font-style="normal" >0</text>
<line x1="74.8" y1="434.2" x2="74.8" y2="437.2" stroke="#2a2a2a" stroke-width="1.1" />
<text x="74.8" y="448.6" font-size="11.2" text-anchor="middle" fill="#1a1a1a" stroke="#1a1a1a" stroke-width="0.22" font-weight="bold" font-style="normal" >500</text>
<line x1="107.7" y1="434.2" x2="107.7" y2="437.2" stroke="#2a2a2a" stroke-width="1.1" />
<text x="107.7" y="448.6" font-size="11.2" text-anchor="middle" fill="#1a1a1a" stroke="#1a1a1a" stroke-width="0.22" font-weight="bold" font-style="normal" >1000</text>
<line x1="140.6" y1="434.2" x2="140.6" y2="437.2" stroke="#2a2a2a" stroke-width="1.1" />
<text x="140.6" y="448.6" font-size="11.2" text-anchor="middle" fill="#1a1a1a" stroke="#1a1a1a" stroke-width="0.22" font-weight="bold" font-style="normal" >1500</text>
<line x1="173.5" y1="434.2" x2="173.5" y2="437.2" stroke="#2a2a2a" stroke-width="1.1" />
<text x="173.5" y="448.6" font-size="11.2" text-anchor="middle" fill="#1a1a1a" stroke="#1a1a1a" stroke-width="0.22" font-weight="bold" font-style="normal" >2000</text>
<line x1="206.4" y1="434.2" x2="206.4" y2="437.2" stroke="#2a2a2a" stroke-width="1.1" />
<text x="206.4" y="448.6" font-size="11.2" text-anchor="middle" fill="#1a1a1a" stroke="#1a1a1a" stroke-width="0.22" font-weight="bold" font-style="normal" >2500</text>
<line x1="239.3" y1="434.2" x2="239.3" y2="437.2" stroke="#2a2a2a" stroke-width="1.1" />
<text x="239.3" y="448.6" font-size="11.2" text-anchor="middle" fill="#1a1a1a" stroke="#1a1a1a" stroke-width="0.22" font-weight="bold" font-style="normal" >3000</text>
<line x1="58.35" y1="434.2" x2="58.35" y2="436" stroke="#2a2a2a" stroke-width="1.0" />
<line x1="91.25" y1="434.2" x2="91.25" y2="436" stroke="#2a2a2a" stroke-width="1.0" />
<line x1="124.15" y1="434.2" x2="124.15" y2="436" stroke="#2a2a2a" stroke-width="1.0" />
<line x1="157.05" y1="434.2" x2="157.05" y2="436" stroke="#2a2a2a" stroke-width="1.0" />
<line x1="189.95" y1="434.2" x2="189.95" y2="436" stroke="#2a2a2a" stroke-width="1.0" />
<line x1="222.85" y1="434.2" x2="222.85" y2="436" stroke="#2a2a2a" stroke-width="1.0" />
<text x="143.6" y="460.8" font-size="12" text-anchor="middle" fill="#1a1a1a" stroke="#1a1a1a" stroke-width="0.22" font-weight="bold" font-style="normal" >Time (s)</text>
<text transform="translate(16.5,398.9) rotate(-90)" font-size="11.7" text-anchor="middle" fill="#1a1a1a" font-weight="bold" stroke="#1a1a1a" stroke-width="0.22">ΔC / C<tspan font-size="8.2" dy="2.6">0</tspan></text>
<text x="4.8" y="368.6" font-size="12.6" text-anchor="start" fill="#1a1a1a" stroke="#1a1a1a" stroke-width="0.22" font-weight="bold" font-style="normal" >(e)</text>
<text x="45.3" y="413.5" font-size="9.8" text-anchor="start" fill="#cc2a2f" stroke="#cc2a2f" stroke-width="0.22" font-weight="bold" font-style="normal" >140kPa</text>
<text x="80.2" y="403.6" font-size="9.8" text-anchor="start" fill="#3572ad" stroke="#3572ad" stroke-width="0.22" font-weight="bold" font-style="normal" >280kPa</text>
<text x="117.6" y="391.3" font-size="9.8" text-anchor="start" fill="#3c9a3c" stroke="#3c9a3c" stroke-width="0.22" font-weight="bold" font-style="normal" >420kPa</text>
<text x="158.3" y="378.3" font-size="9.8" text-anchor="start" fill="#8a3f98" stroke="#8a3f98" stroke-width="0.22" font-weight="bold" font-style="normal" >560kPa</text>
<text x="203.5" y="373.2" font-size="9.8" text-anchor="start" fill="#d07f22" stroke="#d07f22" stroke-width="0.22" font-weight="bold" font-style="normal" >700kPa</text>
<rect x="35.4" y="470.3" width="211.5" height="3" fill="#cfa3d8"/>
<path d="M35.4,470.62 L36.1,471.92 L36.8,471.25 L37.5,471.76 L38.2,472.22 L38.9,471.37 L39.6,471.28 L40.3,470.45 L41,470.82 L41.7,471.25 L42.4,471.59 L43.1,471.83 L43.8,471.03 L44.5,470.44 L45.2,470.88 L45.9,472.07 L46.6,470.77 L47.3,471.25 L48,472.18 L48.7,470.49 L49.4,471.61 L50.1,472.31 L50.8,470.98 L51.5,471.62 L52.2,472.35 L52.9,470.92 L53.6,471.7 L54.3,472.18 L55,472.07 L55.7,471.73 L56.4,471.28 L57.1,471.87 L57.8,471.69 L58.5,471.94 L59.2,471.77 L59.9,472.71 L60.6,472.62 L61.3,471.8 L62,472.33 L62.7,471.8 L63.4,472.17 L64.1,472.02 L64.8,472.63 L65.5,472.11 L66.2,472.3 L66.9,472.81 L67.6,472.25 L68.3,473.2 L69,471.83 L69.7,472.9 L70.4,472.3 L71.1,472.31 L71.8,472.7 L72.5,472.48 L73.2,472.27 L73.9,471.46 L74.6,471.62 L75.3,472.77 L76,472.39 L76.7,472.69 L77.4,473.16 L78.1,472.61 L78.8,471.37 L79.5,471.82 L80.2,472.32 L80.9,471.6 L81.6,472.94 L82.3,472.86 L83,472.63 L83.7,471.87 L84.4,472.53 L85.1,471.13 L85.8,471.42 L86.5,471.67 L87.2,472.15 L87.9,471.62 L88.6,470.92 L89.3,471.27 L90,471.19 L90.7,471.11 L91.4,470.81 L92.1,471.25 L92.8,471.29 L93.5,471.88 L94.2,471.9 L94.9,471.35 L95.6,471.22 L96.3,471.8 L97,472 L97.7,471.59 L98.4,471.82 L99.1,472.08 L99.8,470.38 L100.5,471.97 L101.2,470.84 L101.9,471.24 L102.6,471.86 L103.3,471.73 L104,470.67 L104.7,471.67 L105.4,470.58 L106.1,471.16 L106.8,472.06 L107.5,471.36 L108.2,471.73 L108.9,472.01 L109.6,472.23 L110.3,472.16 L111,470.78 L111.7,471.61 L112.4,471.73 L113.1,471.01 L113.8,471.98 L114.5,472.15 L115.2,472.61 L115.9,472.87 L116.6,471.37 L117.3,471.61 L118,472.46 L118.7,471.5 L119.4,471.71 L120.1,472.41 L120.8,471.68 L121.5,472.87 L122.2,473.04 L122.9,471.5 L123.6,472.46 L124.3,472.98 L125,473.33 L125.7,472.01 L126.4,471.82 L127.1,473.17 L127.8,473.23 L128.5,471.87 L129.2,472.32 L129.9,472.84 L130.6,473.06 L131.3,471.76 L132,472.68 L132.7,472.93 L133.4,472.41 L134.1,471.65 L134.8,471.37 L135.5,471.8 L136.2,472.76 L136.9,471.27 L137.6,471.16 L138.3,471.79 L139,471.18 L139.7,471.29 L140.4,471.01 L141.1,471.92 L141.8,472.2 L142.5,471.64 L143.2,471.03 L143.9,471.36 L144.6,471.81 L145.3,472.43 L146,472.49 L146.7,471.02 L147.4,470.55 L148.1,472.07 L148.8,472.22 L149.5,471.3 L150.2,471.87 L150.9,472.02 L151.6,471.51 L152.3,472 L153,470.37 L153.7,470.83 L154.4,470.83 L155.1,470.53 L155.8,472.03 L156.5,470.36 L157.2,471.59 L157.9,470.46 L158.6,471.02 L159.3,471.15 L160,470.72 L160.7,471.39 L161.4,471.44 L162.1,471.06 L162.8,471.89 L163.5,470.83 L164.2,470.92 L164.9,471.27 L165.6,471.36 L166.3,471.07 L167,472.47 L167.7,472.34 L168.4,471.02 L169.1,471.57 L169.8,471.35 L170.5,471.81 L171.2,471.53 L171.9,472 L172.6,472.85 L173.3,471.86 L174,472.41 L174.7,472.35 L175.4,472.69 L176.1,471.41 L176.8,472.74 L177.5,473.16 L178.2,472.53 L178.9,471.96 L179.6,472.71 L180.3,472.81 L181,472.72 L181.7,471.76 L182.4,473.34 L183.1,473.31 L183.8,472.31 L184.5,472.63 L185.2,471.57 L185.9,473.36 L186.6,473.03 L187.3,472.66 L188,472.88 L188.7,471.77 L189.4,471.97 L190.1,471.83 L190.8,472.46 L191.5,471.47 L192.2,472.96 L192.9,472.1 L193.6,472.02 L194.3,471.33 L195,472.39 L195.7,472.6 L196.4,472.2 L197.1,471.41 L197.8,472.4 L198.5,471.14 L199.2,472.39 L199.9,471.87 L200.6,471.27 L201.3,471.66 L202,471.83 L202.7,471.09 L203.4,472.17 L204.1,471.32 L204.8,472.18 L205.5,472.04 L206.2,470.61 L206.9,471.62 L207.6,470.96 L208.3,471.78 L209,471.37 L209.7,471.19 L210.4,472.01 L211.1,470.41 L211.8,471.36 L212.5,470.92 L213.2,470.37 L213.9,471.74 L214.6,471.39 L215.3,472.04 L216,471.49 L216.7,471.02 L217.4,472.27 L218.1,470.65 L218.8,470.56 L219.5,471.89 L220.2,471.23 L220.9,471.25 L221.6,472.27 L222.3,471.27 L223,472.38 L223.7,471.96 L224.4,471.41 L225.1,470.94 L225.8,471.34 L226.5,472.76 L227.2,471.74 L227.9,471.32 L228.6,471.62 L229.3,472.81 L230,471.46 L230.7,472.67 L231.4,471.48 L232.1,473.09 L232.8,472.31 L233.5,471.42 L234.2,473.13 L234.9,472.07 L235.6,472.81 L236.3,472.44 L237,471.64 L237.7,471.68 L238.4,471.77 L239.1,471.8 L239.8,471.6 L240.5,471.59 L241.2,473.3 L241.9,471.66 L242.6,472.45 L243.3,471.69 L244,471.86 L244.7,472.88 L245.4,473.19 L246.1,472.27 L246.8,471.36 L246.9,518.6 L35.4,518.6 Z" fill="#9a4ba6" stroke="none"/>
<rect x="35.4" y="516.9" width="211.5" height="0.9" fill="#fff" opacity="0.75"/>
<rect x="34.9" y="466" width="213.6" height="53.2" stroke="#2a2a2a" stroke-width="1.3" fill="none" />
<line x1="31.4" y1="517.7" x2="34.9" y2="517.7" stroke="#2a2a2a" stroke-width="1.1" />
<text x="30" y="520.75" font-size="10.5" text-anchor="end" fill="#1a1a1a" stroke="#1a1a1a" stroke-width="0.22" font-weight="bold" font-style="normal" >0</text>
<line x1="31.4" y1="502.15" x2="34.9" y2="502.15" stroke="#2a2a2a" stroke-width="1.1" />
<text x="30" y="505.2" font-size="10.5" text-anchor="end" fill="#1a1a1a" stroke="#1a1a1a" stroke-width="0.22" font-weight="bold" font-style="normal" >1</text>
<line x1="31.4" y1="486.6" x2="34.9" y2="486.6" stroke="#2a2a2a" stroke-width="1.1" />
<text x="30" y="489.65" font-size="10.5" text-anchor="end" fill="#1a1a1a" stroke="#1a1a1a" stroke-width="0.22" font-weight="bold" font-style="normal" >2</text>
<line x1="31.4" y1="471.05" x2="34.9" y2="471.05" stroke="#2a2a2a" stroke-width="1.1" />
<text x="30" y="474.1" font-size="10.5" text-anchor="end" fill="#1a1a1a" stroke="#1a1a1a" stroke-width="0.22" font-weight="bold" font-style="normal" >3</text>
<line x1="33.1" y1="509.93" x2="34.9" y2="509.93" stroke="#2a2a2a" stroke-width="1.0" />
<line x1="33.1" y1="494.38" x2="34.9" y2="494.38" stroke="#2a2a2a" stroke-width="1.0" />
<line x1="33.1" y1="478.83" x2="34.9" y2="478.83" stroke="#2a2a2a" stroke-width="1.0" />
<line x1="35.4" y1="519.2" x2="35.4" y2="522.2" stroke="#2a2a2a" stroke-width="1.1" />
<text x="35.4" y="534.4" font-size="11.2" text-anchor="middle" fill="#1a1a1a" stroke="#1a1a1a" stroke-width="0.22" font-weight="bold" font-style="normal" >0</text>
<line x1="102.8" y1="519.2" x2="102.8" y2="522.2" stroke="#2a2a2a" stroke-width="1.1" />
<text x="102.8" y="534.4" font-size="11.2" text-anchor="middle" fill="#1a1a1a" stroke="#1a1a1a" stroke-width="0.22" font-weight="bold" font-style="normal" >6000</text>
<line x1="170.2" y1="519.2" x2="170.2" y2="522.2" stroke="#2a2a2a" stroke-width="1.1" />
<text x="170.2" y="534.4" font-size="11.2" text-anchor="middle" fill="#1a1a1a" stroke="#1a1a1a" stroke-width="0.22" font-weight="bold" font-style="normal" >12000</text>
<line x1="237.59" y1="519.2" x2="237.59" y2="522.2" stroke="#2a2a2a" stroke-width="1.1" />
<text x="237.59" y="534.4" font-size="11.2" text-anchor="middle" fill="#1a1a1a" stroke="#1a1a1a" stroke-width="0.22" font-weight="bold" font-style="normal" >18000</text>
<line x1="69.1" y1="519.2" x2="69.1" y2="521" stroke="#2a2a2a" stroke-width="1.0" />
<line x1="136.5" y1="519.2" x2="136.5" y2="521" stroke="#2a2a2a" stroke-width="1.0" />
<line x1="203.9" y1="519.2" x2="203.9" y2="521" stroke="#2a2a2a" stroke-width="1.0" />
<text x="137.5" y="543.6" font-size="11.2" text-anchor="middle" fill="#1a1a1a" stroke="#1a1a1a" stroke-width="0.22" font-weight="bold" font-style="normal" >Time (s)</text>
<text transform="translate(17.6,495.2) rotate(-90)" font-size="11.7" text-anchor="middle" fill="#1a1a1a" font-weight="bold" stroke="#1a1a1a" stroke-width="0.22">ΔC/C<tspan font-size="8.2" dy="2.6">0</tspan></text>
<text x="5" y="471" font-size="12.6" text-anchor="start" fill="#1a1a1a" stroke="#1a1a1a" stroke-width="0.22" font-weight="bold" font-style="normal" >(f)</text>
<rect x="471.4" y="366.8" width="25.6" height="140.5" stroke="none" stroke-width="0" fill="#fefec6" />
<circle cx="412.3" cy="438.5" r="2.5" stroke="#45ab4f" stroke-width="1.3" fill="none"/>
<rect x="303.7" y="476.3" width="5" height="5" stroke="#e3262a" stroke-width="0.5" fill="#e3262a" />
<polygon points="433.9,396.2 437,399.3 433.9,402.4 430.8,399.3" stroke="#45ab4f" stroke-width="1.2" fill="none" />
<circle cx="422.3" cy="429.9" r="2.8" stroke="#5b92d6" stroke-width="0.8" fill="#86b2e6"/>
<polygon points="385.2,455.5 386.19,458.14 389,458.26 386.8,460.02 387.55,462.74 385.2,461.18 382.85,462.74 383.6,460.02 381.4,458.26 384.21,458.14" stroke="#8a8a1e" stroke-width="0.5" fill="#8a8a1e" />
<polygon points="401.2,456.5 404.24,458.71 403.08,462.29 399.32,462.29 398.16,458.71" stroke="#f07a22" stroke-width="0.8" fill="#f07a22" />
<circle cx="401.2" cy="459.7" r="0.8" stroke="#fff" stroke-width="0" fill="#fff"/>
<polygon points="363.7,491.6 367,494.9 363.7,498.2 360.4,494.9" stroke="#b887e0" stroke-width="0.5" fill="#b887e0" />
<polygon points="360.08,477.5 365.45,474.4 365.45,480.6" stroke="#d9a01a" stroke-width="1.0" fill="#d9a01a" />
<polygon points="375.43,463.2 369.88,460 369.88,466.4" stroke="#8c5a5a" stroke-width="1.2" fill="none" />
<polygon points="327.2,473.47 330.5,479.19 323.9,479.19" stroke="#2f70c8" stroke-width="1.2" fill="none" />
<polygon points="345.3,453.13 348.7,447.24 341.9,447.24" stroke="#45ab4f" stroke-width="1.2" fill="none" />
<polygon points="366.21,460.95 363.7,462.4 361.19,460.95 361.19,458.05 363.7,456.6 366.21,458.05" stroke="#22bcc4" stroke-width="1.3" fill="none" />
<polygon points="463.2,387.13 466.6,381.24 459.8,381.24" stroke="#8c5a5a" stroke-width="1.2" fill="none" />
<polygon points="436.01,439.95 433.5,441.4 430.99,439.95 430.99,437.05 433.5,435.6 436.01,437.05" stroke="#2f70c8" stroke-width="1.3" fill="none" />
<rect x="434.1" y="436" width="5" height="5" stroke="#b887e0" stroke-width="0.5" fill="#b887e0" />
<polygon points="417.6,405.36 421.1,411.42 414.1,411.42" stroke="#e3262a" stroke-width="0.5" fill="#e3262a" />
<circle cx="309.8" cy="498.3" r="2.8" stroke="#4f8ad2" stroke-width="0.9" fill="#8ab4e6"/>
<polygon points="467.97,378.2 473.69,374.9 473.69,381.5" stroke="#f2641e" stroke-width="0.8" fill="#f2641e" />
<polygon points="496.93,378.8 491.21,375.5 491.21,382.1" stroke="#a8a8a8" stroke-width="0.8" fill="#a8a8a8" />
<circle cx="484" cy="371.8" r="2.6" stroke="#45ab4f" stroke-width="1.3" fill="none"/>
<circle cx="447.7" cy="392" r="2.9" stroke="#d9a01a" stroke-width="0.8" fill="#d9a01a"/>
<polygon points="459.5,386.47 462.9,392.36 456.1,392.36" stroke="#22bcc4" stroke-width="1.2" fill="none" />
<polygon points="471.4,465.3 474.7,468.6 471.4,471.9 468.1,468.6" stroke="#8a8a1e" stroke-width="0.8" fill="#8a8a1e" />
<polygon points="476.8,379 478.18,382.7 482.13,382.87 479.04,385.33 480.09,389.13 476.8,386.95 473.51,389.13 474.56,385.33 471.47,382.87 475.42,382.7" stroke="#e0141c" stroke-width="0.5" fill="#e0141c" />
<line x1="475.4" y1="400.5" x2="476.4" y2="392.97" stroke="#d01c22" stroke-width="1.1" />
<polygon points="476.8,390 478.25,394.23 476.43,392.78 474.29,393.7" stroke="#d01c22" stroke-width="0.3" fill="#d01c22" />
<text x="462.8" y="406.5" font-size="8" text-anchor="start" fill="#c8282c" stroke="#c8282c" stroke-width="0.22" font-weight="bold" font-style="normal" >Our work</text>
<rect x="293.8" y="366.8" width="117.2" height="65.5" stroke="#2a2a2a" stroke-width="1.1" fill="#fff" />
<circle cx="303.4" cy="373.2" r="2.12" stroke="#45ab4f" stroke-width="1.3" fill="none"/>
<text x="312" y="375.7" font-size="7.2" text-anchor="start" fill="#333" stroke="#333" stroke-width="0.22" font-weight="bold" font-style="normal" >[6]</text>
<rect x="330.27" y="371.07" width="4.25" height="4.25" stroke="#e3262a" stroke-width="0.5" fill="#e3262a" />
<text x="340.8" y="375.7" font-size="7.2" text-anchor="start" fill="#333" stroke="#333" stroke-width="0.22" font-weight="bold" font-style="normal" >[7]</text>
<polygon points="360.6,370.56 363.24,373.2 360.6,375.83 357.97,373.2" stroke="#45ab4f" stroke-width="1.2" fill="none" />
<text x="369.4" y="375.7" font-size="7.2" text-anchor="start" fill="#333" stroke="#333" stroke-width="0.22" font-weight="bold" font-style="normal" >[9]</text>
<circle cx="389.3" cy="373.2" r="2.38" stroke="#5b92d6" stroke-width="0.8" fill="#86b2e6"/>
<text x="398" y="375.7" font-size="7.2" text-anchor="start" fill="#333" stroke="#333" stroke-width="0.22" font-weight="bold" font-style="normal" >[11]</text>
<polygon points="303.4,378.8 304.24,381.04 306.63,381.15 304.76,382.64 305.4,384.95 303.4,383.63 301.4,384.95 302.04,382.64 300.17,381.15 302.56,381.04" stroke="#8a8a1e" stroke-width="0.5" fill="#8a8a1e" />
<text x="312" y="384.7" font-size="7.2" text-anchor="start" fill="#333" stroke="#333" stroke-width="0.22" font-weight="bold" font-style="normal" >[12]</text>
<polygon points="332.4,379.48 334.99,381.36 334,384.4 330.8,384.4 329.81,381.36" stroke="#f07a22" stroke-width="0.8" fill="#f07a22" />
<circle cx="332.4" cy="382.2" r="0.68" stroke="#fff" stroke-width="0" fill="#fff"/>
<text x="340.8" y="384.7" font-size="7.2" text-anchor="start" fill="#333" stroke="#333" stroke-width="0.22" font-weight="bold" font-style="normal" >[13]</text>
<polygon points="360.6,379.39 363.41,382.2 360.6,385 357.8,382.2" stroke="#b887e0" stroke-width="0.5" fill="#b887e0" />
<text x="369.4" y="384.7" font-size="7.2" text-anchor="start" fill="#333" stroke="#333" stroke-width="0.22" font-weight="bold" font-style="normal" >[14]</text>
<polygon points="386.56,382.2 391.13,379.56 391.13,384.83" stroke="#d9a01a" stroke-width="1.0" fill="#d9a01a" />
<text x="398" y="384.7" font-size="7.2" text-anchor="start" fill="#333" stroke="#333" stroke-width="0.22" font-weight="bold" font-style="normal" >[15]</text>
<polygon points="306.23,391.4 301.52,388.68 301.52,394.12" stroke="#8c5a5a" stroke-width="1.2" fill="none" />
<text x="312" y="393.9" font-size="7.2" text-anchor="start" fill="#333" stroke="#333" stroke-width="0.22" font-weight="bold" font-style="normal" >[16]</text>
<polygon points="332.4,388.49 335.2,393.34 329.59,393.34" stroke="#2f70c8" stroke-width="1.2" fill="none" />
<text x="340.8" y="393.9" font-size="7.2" text-anchor="start" fill="#333" stroke="#333" stroke-width="0.22" font-weight="bold" font-style="normal" >[17]</text>
<polygon points="360.6,394.4 363.49,389.4 357.71,389.4" stroke="#45ab4f" stroke-width="1.2" fill="none" />
<text x="369.4" y="393.9" font-size="7.2" text-anchor="start" fill="#333" stroke="#333" stroke-width="0.22" font-weight="bold" font-style="normal" >[18]</text>
<polygon points="391.43,392.63 389.3,393.86 387.17,392.63 387.17,390.17 389.3,388.94 391.43,390.17" stroke="#22bcc4" stroke-width="1.3" fill="none" />
<text x="398" y="393.9" font-size="7.2" text-anchor="start" fill="#333" stroke="#333" stroke-width="0.22" font-weight="bold" font-style="normal" >[19]</text>
<polygon points="303.4,403.6 306.29,398.6 300.51,398.6" stroke="#8c5a5a" stroke-width="1.2" fill="none" />
<text x="312" y="403.1" font-size="7.2" text-anchor="start" fill="#333" stroke="#333" stroke-width="0.22" font-weight="bold" font-style="normal" >[20]</text>
<polygon points="334.53,401.83 332.4,403.06 330.27,401.83 330.27,399.37 332.4,398.14 334.53,399.37" stroke="#2f70c8" stroke-width="1.3" fill="none" />
<text x="340.8" y="403.1" font-size="7.2" text-anchor="start" fill="#333" stroke="#333" stroke-width="0.22" font-weight="bold" font-style="normal" >[22]</text>
<rect x="358.48" y="398.48" width="4.25" height="4.25" stroke="#b887e0" stroke-width="0.5" fill="#b887e0" />
<text x="369.4" y="403.1" font-size="7.2" text-anchor="start" fill="#333" stroke="#333" stroke-width="0.22" font-weight="bold" font-style="normal" >[23]</text>
<polygon points="386.56,400.6 391.13,397.97 391.13,403.24" stroke="#a8a8a8" stroke-width="1.1" fill="none" />
<text x="398" y="403.1" font-size="7.2" text-anchor="start" fill="#333" stroke="#333" stroke-width="0.22" font-weight="bold" font-style="normal" >[24]</text>
<polygon points="303.4,406.61 306.38,411.76 300.42,411.76" stroke="#e3262a" stroke-width="0.5" fill="#e3262a" />
<text x="312" y="412.2" font-size="7.2" text-anchor="start" fill="#333" stroke="#333" stroke-width="0.22" font-weight="bold" font-style="normal" >[25]</text>
<circle cx="332.4" cy="409.7" r="2.38" stroke="#4f8ad2" stroke-width="0.9" fill="#8ab4e6"/>
<text x="340.8" y="412.2" font-size="7.2" text-anchor="start" fill="#333" stroke="#333" stroke-width="0.22" font-weight="bold" font-style="normal" >[26]</text>
<polygon points="357.69,409.7 362.54,406.89 362.54,412.5" stroke="#f2641e" stroke-width="0.8" fill="#f2641e" />
<text x="369.4" y="412.2" font-size="7.2" text-anchor="start" fill="#333" stroke="#333" stroke-width="0.22" font-weight="bold" font-style="normal" >[27]</text>
<polygon points="392.21,409.7 387.36,406.89 387.36,412.5" stroke="#a8a8a8" stroke-width="0.8" fill="#a8a8a8" />
<text x="398" y="412.2" font-size="7.2" text-anchor="start" fill="#333" stroke="#333" stroke-width="0.22" font-weight="bold" font-style="normal" >[28]</text>
<circle cx="303.4" cy="418.8" r="2.21" stroke="#45ab4f" stroke-width="1.3" fill="none"/>
<text x="312" y="421.3" font-size="7.2" text-anchor="start" fill="#333" stroke="#333" stroke-width="0.22" font-weight="bold" font-style="normal" >[29]</text>
<circle cx="332.4" cy="418.8" r="2.46" stroke="#d9a01a" stroke-width="0.8" fill="#d9a01a"/>
<text x="340.8" y="421.3" font-size="7.2" text-anchor="start" fill="#333" stroke="#333" stroke-width="0.22" font-weight="bold" font-style="normal" >[33]</text>
<polygon points="360.6,415.8 363.49,420.8 357.71,420.8" stroke="#22bcc4" stroke-width="1.2" fill="none" />
<text x="369.4" y="421.3" font-size="7.2" text-anchor="start" fill="#333" stroke="#333" stroke-width="0.22" font-weight="bold" font-style="normal" >[34]</text>
<polygon points="389.3,416 392.11,418.8 389.3,421.61 386.5,418.8" stroke="#8a8a1e" stroke-width="0.8" fill="#8a8a1e" />
<text x="398" y="421.3" font-size="7.2" text-anchor="start" fill="#333" stroke="#333" stroke-width="0.22" font-weight="bold" font-style="normal" >[35]</text>
<polygon points="303.4,424.3 304.26,426.61 306.73,426.72 304.8,428.25 305.46,430.63 303.4,429.27 301.34,430.63 302,428.25 300.07,426.72 302.54,426.61" stroke="#e0141c" stroke-width="0.5" fill="#e0141c" />
<text x="313.8" y="430.3" font-size="7.2" text-anchor="start" fill="#222" stroke="#222" stroke-width="0.22" font-weight="bold" font-style="normal" >Our work</text>
<rect x="293.8" y="366.8" width="203.2" height="140.5" stroke="#2a2a2a" stroke-width="1.3" fill="none" />
<line x1="290.8" y1="498.2" x2="293.8" y2="498.2" stroke="#2a2a2a" stroke-width="1.1" />
<text x="288.0" y="502.2" font-size="11.2" text-anchor="end" fill="#1a1a1a" font-weight="bold" stroke="#1a1a1a" stroke-width="0.22">10<tspan font-size="6.4" dy="-4.6">-1</tspan></text>
<line x1="290.8" y1="468.3" x2="293.8" y2="468.3" stroke="#2a2a2a" stroke-width="1.1" />
<text x="288.0" y="472.3" font-size="11.2" text-anchor="end" fill="#1a1a1a" font-weight="bold" stroke="#1a1a1a" stroke-width="0.22">10<tspan font-size="6.4" dy="-4.6">0</tspan></text>
<line x1="290.8" y1="438.4" x2="293.8" y2="438.4" stroke="#2a2a2a" stroke-width="1.1" />
<text x="288.0" y="442.4" font-size="11.2" text-anchor="end" fill="#1a1a1a" font-weight="bold" stroke="#1a1a1a" stroke-width="0.22">10<tspan font-size="6.4" dy="-4.6">1</tspan></text>
<line x1="290.8" y1="408.5" x2="293.8" y2="408.5" stroke="#2a2a2a" stroke-width="1.1" />
<text x="288.0" y="412.5" font-size="11.2" text-anchor="end" fill="#1a1a1a" font-weight="bold" stroke="#1a1a1a" stroke-width="0.22">10<tspan font-size="6.4" dy="-4.6">2</tspan></text>
<line x1="290.8" y1="378.6" x2="293.8" y2="378.6" stroke="#2a2a2a" stroke-width="1.1" />
<text x="288.0" y="382.6" font-size="11.2" text-anchor="end" fill="#1a1a1a" font-weight="bold" stroke="#1a1a1a" stroke-width="0.22">10<tspan font-size="6.4" dy="-4.6">3</tspan></text>
<line x1="309.8" y1="507.3" x2="309.8" y2="510.3" stroke="#2a2a2a" stroke-width="1.1" />
<text x="310.1" y="524.2" font-size="11.2" text-anchor="middle" fill="#1a1a1a" font-weight="bold" stroke="#1a1a1a" stroke-width="0.22">10<tspan font-size="6.4" dy="-4.6">0</tspan></text>
<line x1="363.9" y1="507.3" x2="363.9" y2="510.3" stroke="#2a2a2a" stroke-width="1.1" />
<text x="364.2" y="524.2" font-size="11.2" text-anchor="middle" fill="#1a1a1a" font-weight="bold" stroke="#1a1a1a" stroke-width="0.22">10<tspan font-size="6.4" dy="-4.6">1</tspan></text>
<line x1="418" y1="507.3" x2="418" y2="510.3" stroke="#2a2a2a" stroke-width="1.1" />
<text x="418.3" y="524.2" font-size="11.2" text-anchor="middle" fill="#1a1a1a" font-weight="bold" stroke="#1a1a1a" stroke-width="0.22">10<tspan font-size="6.4" dy="-4.6">2</tspan></text>
<line x1="472.1" y1="507.3" x2="472.1" y2="510.3" stroke="#2a2a2a" stroke-width="1.1" />
<text x="472.4" y="524.2" font-size="11.2" text-anchor="middle" fill="#1a1a1a" font-weight="bold" stroke="#1a1a1a" stroke-width="0.22">10<tspan font-size="6.4" dy="-4.6">3</tspan></text>
<text x="395" y="538.6" font-size="11.85" text-anchor="middle" fill="#1a1a1a" stroke="#1a1a1a" stroke-width="0.22" font-weight="bold" font-style="normal" >Total Detection Range (kPa)</text>
<text transform="translate(264.9,436.8) rotate(-90)" font-size="12" text-anchor="middle" fill="#1a1a1a" font-weight="bold" stroke="#1a1a1a" stroke-width="0.22">Linearity Range (kPa)</text>
<text x="254.8" y="369.4" font-size="12.6" text-anchor="start" fill="#1a1a1a" stroke="#1a1a1a" stroke-width="0.22" font-weight="bold" font-style="normal" >(g)</text>
</svg></body></html>
